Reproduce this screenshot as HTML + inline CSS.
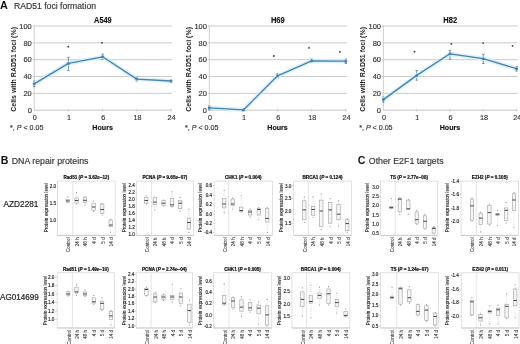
<!DOCTYPE html>
<html><head><meta charset="utf-8"><title>Figure</title>
<style>
html,body{margin:0;padding:0;background:#fff;}
body{width:520px;height:344px;overflow:hidden;}
svg{display:block;font-family:"Liberation Sans", Arial, sans-serif;}
</style></head><body>
<svg width="520" height="344" viewBox="0 0 520 344">
<rect width="520" height="344" fill="#fff"/>
<text x="0.10" y="9.40" font-size="10.8" font-weight="bold" text-anchor="start" fill="#111" >A</text>
<text x="14.00" y="9.35" font-size="8.65" font-weight="normal" text-anchor="start" fill="#333" stroke="#333" stroke-width="0.15">RAD51 foci formation</text>
<text x="0.80" y="163.90" font-size="10.6" font-weight="bold" text-anchor="start" fill="#111" >B</text>
<text x="11.70" y="163.90" font-size="8.8" font-weight="normal" text-anchor="start" fill="#333" stroke="#333" stroke-width="0.15">DNA repair proteins</text>
<text x="357.70" y="163.90" font-size="10.6" font-weight="bold" text-anchor="start" fill="#111" >C</text>
<text x="368.80" y="163.90" font-size="8.8" font-weight="normal" text-anchor="start" fill="#333" stroke="#333" stroke-width="0.15">Other E2F1 targets</text>
<text x="3.60" y="207.10" font-size="8.6" font-weight="normal" text-anchor="start" fill="#222" stroke="#222" stroke-width="0.2" textLength="34.8" lengthAdjust="spacingAndGlyphs">AZD2281</text>
<text x="0.10" y="300.40" font-size="8.6" font-weight="normal" text-anchor="start" fill="#222" stroke="#222" stroke-width="0.2" textLength="38.6" lengthAdjust="spacingAndGlyphs">AG014699</text>
<line x1="32.70" y1="93.36" x2="172.00" y2="93.36" stroke="#c4c4c4" stroke-width="0.9" />
<line x1="32.70" y1="76.52" x2="172.00" y2="76.52" stroke="#c4c4c4" stroke-width="0.9" />
<line x1="32.70" y1="59.68" x2="172.00" y2="59.68" stroke="#c4c4c4" stroke-width="0.9" />
<line x1="32.70" y1="42.84" x2="172.00" y2="42.84" stroke="#c4c4c4" stroke-width="0.9" />
<line x1="32.70" y1="26.00" x2="172.00" y2="26.00" stroke="#c4c4c4" stroke-width="0.9" />
<line x1="34.20" y1="25.50" x2="34.20" y2="110.70" stroke="#cfcfcf" stroke-width="1" />
<line x1="34.20" y1="110.20" x2="172.00" y2="110.20" stroke="#c4c4c4" stroke-width="1" />
<line x1="68.40" y1="108.60" x2="68.40" y2="111.60" stroke="#cccccc" stroke-width="0.8" />
<line x1="102.60" y1="108.60" x2="102.60" y2="111.60" stroke="#cccccc" stroke-width="0.8" />
<line x1="136.80" y1="108.60" x2="136.80" y2="111.60" stroke="#cccccc" stroke-width="0.8" />
<line x1="171.00" y1="108.60" x2="171.00" y2="111.60" stroke="#cccccc" stroke-width="0.8" />
<text x="31.80" y="112.90" font-size="7.5" font-weight="normal" text-anchor="end" fill="#333" stroke="#333" stroke-width="0.15">0</text>
<text x="31.80" y="96.06" font-size="7.5" font-weight="normal" text-anchor="end" fill="#333" stroke="#333" stroke-width="0.15">20</text>
<text x="31.80" y="79.22" font-size="7.5" font-weight="normal" text-anchor="end" fill="#333" stroke="#333" stroke-width="0.15">40</text>
<text x="31.80" y="62.38" font-size="7.5" font-weight="normal" text-anchor="end" fill="#333" stroke="#333" stroke-width="0.15">60</text>
<text x="31.80" y="45.54" font-size="7.5" font-weight="normal" text-anchor="end" fill="#333" stroke="#333" stroke-width="0.15">80</text>
<text x="31.80" y="28.70" font-size="7.5" font-weight="normal" text-anchor="end" fill="#333" stroke="#333" stroke-width="0.15">100</text>
<text x="34.80" y="120.00" font-size="7.2" font-weight="normal" text-anchor="middle" fill="#333" stroke="#333" stroke-width="0.15">0</text>
<text x="69.00" y="120.00" font-size="7.2" font-weight="normal" text-anchor="middle" fill="#333" stroke="#333" stroke-width="0.15">1</text>
<text x="103.20" y="120.00" font-size="7.2" font-weight="normal" text-anchor="middle" fill="#333" stroke="#333" stroke-width="0.15">6</text>
<text x="137.40" y="120.00" font-size="7.2" font-weight="normal" text-anchor="middle" fill="#333" stroke="#333" stroke-width="0.15">18</text>
<text x="171.60" y="120.00" font-size="7.2" font-weight="normal" text-anchor="middle" fill="#333" stroke="#333" stroke-width="0.15">24</text>
<text x="102.90" y="23.00" font-size="8.9" font-weight="bold" text-anchor="middle" fill="#111" stroke="#111" stroke-width="0.12" textLength="17.6" lengthAdjust="spacingAndGlyphs">A549</text>
<text x="102.60" y="130.00" font-size="7.1" font-weight="bold" text-anchor="middle" fill="#111" stroke="#111" stroke-width="0.15">Hours</text>
<text x="10.00" y="129.80" font-size="7.1" font-weight="normal" text-anchor="start" fill="#333" stroke="#333" stroke-width="0.15">*, <tspan font-style="italic">P</tspan> &lt; 0.05</text>
<text x="16.00" y="69.40" font-size="7" font-weight="bold" text-anchor="middle" fill="#222" transform="rotate(-90 16.00 69.40)">Cells with RAD51 foci (%)</text>
<line x1="34.20" y1="81.00" x2="34.20" y2="86.60" stroke="#4a7fae" stroke-width="0.8" />
<line x1="33.00" y1="81.00" x2="35.40" y2="81.00" stroke="#4a7fae" stroke-width="0.8" />
<line x1="33.00" y1="86.60" x2="35.40" y2="86.60" stroke="#4a7fae" stroke-width="0.8" />
<line x1="68.40" y1="57.30" x2="68.40" y2="70.40" stroke="#4a7fae" stroke-width="0.8" />
<line x1="67.20" y1="57.30" x2="69.60" y2="57.30" stroke="#4a7fae" stroke-width="0.8" />
<line x1="67.20" y1="70.40" x2="69.60" y2="70.40" stroke="#4a7fae" stroke-width="0.8" />
<line x1="102.60" y1="54.00" x2="102.60" y2="59.50" stroke="#4a7fae" stroke-width="0.8" />
<line x1="101.40" y1="54.00" x2="103.80" y2="54.00" stroke="#4a7fae" stroke-width="0.8" />
<line x1="101.40" y1="59.50" x2="103.80" y2="59.50" stroke="#4a7fae" stroke-width="0.8" />
<line x1="136.80" y1="76.80" x2="136.80" y2="81.00" stroke="#4a7fae" stroke-width="0.8" />
<line x1="135.60" y1="76.80" x2="138.00" y2="76.80" stroke="#4a7fae" stroke-width="0.8" />
<line x1="135.60" y1="81.00" x2="138.00" y2="81.00" stroke="#4a7fae" stroke-width="0.8" />
<line x1="171.00" y1="80.00" x2="171.00" y2="82.00" stroke="#4a7fae" stroke-width="0.8" />
<line x1="169.80" y1="80.00" x2="172.20" y2="80.00" stroke="#4a7fae" stroke-width="0.8" />
<line x1="169.80" y1="82.00" x2="172.20" y2="82.00" stroke="#4a7fae" stroke-width="0.8" />
<polyline points="34.20,83.80 68.40,63.40 102.60,56.80 136.80,79.10 171.00,81.00" fill="none" stroke="#d6eff9" stroke-width="4.2" stroke-linejoin="round" opacity="0.8"/>
<polyline points="34.20,83.80 68.40,63.40 102.60,56.80 136.80,79.10 171.00,81.00" fill="none" stroke="#4483b5" stroke-width="1.35" stroke-linejoin="round"/>
<circle cx="34.20" cy="83.80" r="1.5" fill="#4483b5"/>
<circle cx="68.40" cy="63.40" r="1.5" fill="#4483b5"/>
<circle cx="102.60" cy="56.80" r="1.5" fill="#4483b5"/>
<circle cx="136.80" cy="79.10" r="1.5" fill="#4483b5"/>
<circle cx="171.00" cy="81.00" r="1.5" fill="#4483b5"/>
<circle cx="68.20" cy="46.70" r="0.9" fill="#333"/>
<circle cx="102.00" cy="42.80" r="0.9" fill="#333"/>
<line x1="207.80" y1="93.36" x2="346.80" y2="93.36" stroke="#c4c4c4" stroke-width="0.9" />
<line x1="207.80" y1="76.52" x2="346.80" y2="76.52" stroke="#c4c4c4" stroke-width="0.9" />
<line x1="207.80" y1="59.68" x2="346.80" y2="59.68" stroke="#c4c4c4" stroke-width="0.9" />
<line x1="207.80" y1="42.84" x2="346.80" y2="42.84" stroke="#c4c4c4" stroke-width="0.9" />
<line x1="207.80" y1="26.00" x2="346.80" y2="26.00" stroke="#c4c4c4" stroke-width="0.9" />
<line x1="209.30" y1="25.50" x2="209.30" y2="110.70" stroke="#cfcfcf" stroke-width="1" />
<line x1="209.30" y1="110.20" x2="346.80" y2="110.20" stroke="#c4c4c4" stroke-width="1" />
<line x1="243.43" y1="108.60" x2="243.43" y2="111.60" stroke="#cccccc" stroke-width="0.8" />
<line x1="277.55" y1="108.60" x2="277.55" y2="111.60" stroke="#cccccc" stroke-width="0.8" />
<line x1="311.68" y1="108.60" x2="311.68" y2="111.60" stroke="#cccccc" stroke-width="0.8" />
<line x1="345.80" y1="108.60" x2="345.80" y2="111.60" stroke="#cccccc" stroke-width="0.8" />
<text x="206.90" y="112.90" font-size="7.5" font-weight="normal" text-anchor="end" fill="#333" stroke="#333" stroke-width="0.15">0</text>
<text x="206.90" y="96.06" font-size="7.5" font-weight="normal" text-anchor="end" fill="#333" stroke="#333" stroke-width="0.15">20</text>
<text x="206.90" y="79.22" font-size="7.5" font-weight="normal" text-anchor="end" fill="#333" stroke="#333" stroke-width="0.15">40</text>
<text x="206.90" y="62.38" font-size="7.5" font-weight="normal" text-anchor="end" fill="#333" stroke="#333" stroke-width="0.15">60</text>
<text x="206.90" y="45.54" font-size="7.5" font-weight="normal" text-anchor="end" fill="#333" stroke="#333" stroke-width="0.15">80</text>
<text x="206.90" y="28.70" font-size="7.5" font-weight="normal" text-anchor="end" fill="#333" stroke="#333" stroke-width="0.15">100</text>
<text x="209.90" y="120.00" font-size="7.2" font-weight="normal" text-anchor="middle" fill="#333" stroke="#333" stroke-width="0.15">0</text>
<text x="244.03" y="120.00" font-size="7.2" font-weight="normal" text-anchor="middle" fill="#333" stroke="#333" stroke-width="0.15">1</text>
<text x="278.15" y="120.00" font-size="7.2" font-weight="normal" text-anchor="middle" fill="#333" stroke="#333" stroke-width="0.15">6</text>
<text x="312.28" y="120.00" font-size="7.2" font-weight="normal" text-anchor="middle" fill="#333" stroke="#333" stroke-width="0.15">18</text>
<text x="346.40" y="120.00" font-size="7.2" font-weight="normal" text-anchor="middle" fill="#333" stroke="#333" stroke-width="0.15">24</text>
<text x="277.85" y="23.00" font-size="8.9" font-weight="bold" text-anchor="middle" fill="#111" stroke="#111" stroke-width="0.12" textLength="13.9" lengthAdjust="spacingAndGlyphs">H69</text>
<text x="277.55" y="130.00" font-size="7.1" font-weight="bold" text-anchor="middle" fill="#111" stroke="#111" stroke-width="0.15">Hours</text>
<text x="185.10" y="129.80" font-size="7.1" font-weight="normal" text-anchor="start" fill="#333" stroke="#333" stroke-width="0.15">*, <tspan font-style="italic">P</tspan> &lt; 0.05</text>
<text x="191.10" y="69.40" font-size="7" font-weight="bold" text-anchor="middle" fill="#222" transform="rotate(-90 191.10 69.40)">Cells with RAD51 foci (%)</text>
<line x1="209.30" y1="106.00" x2="209.30" y2="110.00" stroke="#4a7fae" stroke-width="0.8" />
<line x1="208.10" y1="106.00" x2="210.50" y2="106.00" stroke="#4a7fae" stroke-width="0.8" />
<line x1="208.10" y1="110.00" x2="210.50" y2="110.00" stroke="#4a7fae" stroke-width="0.8" />
<line x1="243.43" y1="109.00" x2="243.43" y2="110.50" stroke="#4a7fae" stroke-width="0.8" />
<line x1="242.23" y1="109.00" x2="244.62" y2="109.00" stroke="#4a7fae" stroke-width="0.8" />
<line x1="242.23" y1="110.50" x2="244.62" y2="110.50" stroke="#4a7fae" stroke-width="0.8" />
<line x1="277.55" y1="73.50" x2="277.55" y2="78.00" stroke="#4a7fae" stroke-width="0.8" />
<line x1="276.35" y1="73.50" x2="278.75" y2="73.50" stroke="#4a7fae" stroke-width="0.8" />
<line x1="276.35" y1="78.00" x2="278.75" y2="78.00" stroke="#4a7fae" stroke-width="0.8" />
<line x1="311.68" y1="59.00" x2="311.68" y2="62.50" stroke="#4a7fae" stroke-width="0.8" />
<line x1="310.48" y1="59.00" x2="312.88" y2="59.00" stroke="#4a7fae" stroke-width="0.8" />
<line x1="310.48" y1="62.50" x2="312.88" y2="62.50" stroke="#4a7fae" stroke-width="0.8" />
<line x1="345.80" y1="59.00" x2="345.80" y2="63.50" stroke="#4a7fae" stroke-width="0.8" />
<line x1="344.60" y1="59.00" x2="347.00" y2="59.00" stroke="#4a7fae" stroke-width="0.8" />
<line x1="344.60" y1="63.50" x2="347.00" y2="63.50" stroke="#4a7fae" stroke-width="0.8" />
<polyline points="209.30,107.90 243.43,109.90 277.55,75.80 311.68,60.80 345.80,61.20" fill="none" stroke="#d6eff9" stroke-width="4.2" stroke-linejoin="round" opacity="0.8"/>
<polyline points="209.30,107.90 243.43,109.90 277.55,75.80 311.68,60.80 345.80,61.20" fill="none" stroke="#4483b5" stroke-width="1.35" stroke-linejoin="round"/>
<circle cx="209.30" cy="107.90" r="1.5" fill="#4483b5"/>
<circle cx="243.43" cy="109.90" r="1.5" fill="#4483b5"/>
<circle cx="277.55" cy="75.80" r="1.5" fill="#4483b5"/>
<circle cx="311.68" cy="60.80" r="1.5" fill="#4483b5"/>
<circle cx="345.80" cy="61.20" r="1.5" fill="#4483b5"/>
<circle cx="273.80" cy="56.00" r="0.9" fill="#333"/>
<circle cx="309.00" cy="47.80" r="0.9" fill="#333"/>
<circle cx="339.90" cy="51.80" r="0.9" fill="#333"/>
<line x1="381.90" y1="93.36" x2="517.60" y2="93.36" stroke="#c4c4c4" stroke-width="0.9" />
<line x1="381.90" y1="76.52" x2="517.60" y2="76.52" stroke="#c4c4c4" stroke-width="0.9" />
<line x1="381.90" y1="59.68" x2="517.60" y2="59.68" stroke="#c4c4c4" stroke-width="0.9" />
<line x1="381.90" y1="42.84" x2="517.60" y2="42.84" stroke="#c4c4c4" stroke-width="0.9" />
<line x1="381.90" y1="26.00" x2="517.60" y2="26.00" stroke="#c4c4c4" stroke-width="0.9" />
<line x1="383.40" y1="25.50" x2="383.40" y2="110.70" stroke="#cfcfcf" stroke-width="1" />
<line x1="383.40" y1="110.20" x2="517.60" y2="110.20" stroke="#c4c4c4" stroke-width="1" />
<line x1="416.70" y1="108.60" x2="416.70" y2="111.60" stroke="#cccccc" stroke-width="0.8" />
<line x1="450.00" y1="108.60" x2="450.00" y2="111.60" stroke="#cccccc" stroke-width="0.8" />
<line x1="483.30" y1="108.60" x2="483.30" y2="111.60" stroke="#cccccc" stroke-width="0.8" />
<line x1="516.60" y1="108.60" x2="516.60" y2="111.60" stroke="#cccccc" stroke-width="0.8" />
<text x="381.00" y="112.90" font-size="7.5" font-weight="normal" text-anchor="end" fill="#333" stroke="#333" stroke-width="0.15">0</text>
<text x="381.00" y="96.06" font-size="7.5" font-weight="normal" text-anchor="end" fill="#333" stroke="#333" stroke-width="0.15">20</text>
<text x="381.00" y="79.22" font-size="7.5" font-weight="normal" text-anchor="end" fill="#333" stroke="#333" stroke-width="0.15">40</text>
<text x="381.00" y="62.38" font-size="7.5" font-weight="normal" text-anchor="end" fill="#333" stroke="#333" stroke-width="0.15">60</text>
<text x="381.00" y="45.54" font-size="7.5" font-weight="normal" text-anchor="end" fill="#333" stroke="#333" stroke-width="0.15">80</text>
<text x="381.00" y="28.70" font-size="7.5" font-weight="normal" text-anchor="end" fill="#333" stroke="#333" stroke-width="0.15">100</text>
<text x="384.00" y="120.00" font-size="7.2" font-weight="normal" text-anchor="middle" fill="#333" stroke="#333" stroke-width="0.15">0</text>
<text x="417.30" y="120.00" font-size="7.2" font-weight="normal" text-anchor="middle" fill="#333" stroke="#333" stroke-width="0.15">1</text>
<text x="450.60" y="120.00" font-size="7.2" font-weight="normal" text-anchor="middle" fill="#333" stroke="#333" stroke-width="0.15">6</text>
<text x="483.90" y="120.00" font-size="7.2" font-weight="normal" text-anchor="middle" fill="#333" stroke="#333" stroke-width="0.15">18</text>
<text x="517.20" y="120.00" font-size="7.2" font-weight="normal" text-anchor="middle" fill="#333" stroke="#333" stroke-width="0.15">24</text>
<text x="450.30" y="23.00" font-size="8.9" font-weight="bold" text-anchor="middle" fill="#111" stroke="#111" stroke-width="0.12" textLength="13.9" lengthAdjust="spacingAndGlyphs">H82</text>
<text x="450.00" y="130.00" font-size="7.1" font-weight="bold" text-anchor="middle" fill="#111" stroke="#111" stroke-width="0.15">Hours</text>
<text x="359.20" y="129.80" font-size="7.1" font-weight="normal" text-anchor="start" fill="#333" stroke="#333" stroke-width="0.15">*, <tspan font-style="italic">P</tspan> &lt; 0.05</text>
<text x="365.20" y="69.40" font-size="7" font-weight="bold" text-anchor="middle" fill="#222" transform="rotate(-90 365.20 69.40)">Cells with RAD51 foci (%)</text>
<line x1="383.40" y1="97.00" x2="383.40" y2="102.30" stroke="#4a7fae" stroke-width="0.8" />
<line x1="382.20" y1="97.00" x2="384.60" y2="97.00" stroke="#4a7fae" stroke-width="0.8" />
<line x1="382.20" y1="102.30" x2="384.60" y2="102.30" stroke="#4a7fae" stroke-width="0.8" />
<line x1="416.70" y1="70.50" x2="416.70" y2="80.20" stroke="#4a7fae" stroke-width="0.8" />
<line x1="415.50" y1="70.50" x2="417.90" y2="70.50" stroke="#4a7fae" stroke-width="0.8" />
<line x1="415.50" y1="80.20" x2="417.90" y2="80.20" stroke="#4a7fae" stroke-width="0.8" />
<line x1="450.00" y1="50.30" x2="450.00" y2="59.20" stroke="#4a7fae" stroke-width="0.8" />
<line x1="448.80" y1="50.30" x2="451.20" y2="50.30" stroke="#4a7fae" stroke-width="0.8" />
<line x1="448.80" y1="59.20" x2="451.20" y2="59.20" stroke="#4a7fae" stroke-width="0.8" />
<line x1="483.30" y1="54.40" x2="483.30" y2="63.50" stroke="#4a7fae" stroke-width="0.8" />
<line x1="482.10" y1="54.40" x2="484.50" y2="54.40" stroke="#4a7fae" stroke-width="0.8" />
<line x1="482.10" y1="63.50" x2="484.50" y2="63.50" stroke="#4a7fae" stroke-width="0.8" />
<line x1="516.60" y1="66.50" x2="516.60" y2="71.10" stroke="#4a7fae" stroke-width="0.8" />
<line x1="515.40" y1="66.50" x2="517.80" y2="66.50" stroke="#4a7fae" stroke-width="0.8" />
<line x1="515.40" y1="71.10" x2="517.80" y2="71.10" stroke="#4a7fae" stroke-width="0.8" />
<polyline points="383.40,99.60 416.70,75.40 450.00,53.80 483.30,58.70 516.60,68.70" fill="none" stroke="#d6eff9" stroke-width="4.2" stroke-linejoin="round" opacity="0.8"/>
<polyline points="383.40,99.60 416.70,75.40 450.00,53.80 483.30,58.70 516.60,68.70" fill="none" stroke="#4483b5" stroke-width="1.35" stroke-linejoin="round"/>
<circle cx="383.40" cy="99.60" r="1.5" fill="#4483b5"/>
<circle cx="416.70" cy="75.40" r="1.5" fill="#4483b5"/>
<circle cx="450.00" cy="53.80" r="1.5" fill="#4483b5"/>
<circle cx="483.30" cy="58.70" r="1.5" fill="#4483b5"/>
<circle cx="516.60" cy="68.70" r="1.5" fill="#4483b5"/>
<circle cx="414.50" cy="51.70" r="0.9" fill="#333"/>
<circle cx="451.40" cy="43.90" r="0.9" fill="#333"/>
<circle cx="483.10" cy="43.10" r="0.9" fill="#333"/>
<circle cx="512.50" cy="45.80" r="0.9" fill="#333"/>
<rect x="57.50" y="181.10" width="57.70" height="54.10" fill="none" stroke="#dadada" stroke-width="0.8"/>
<line x1="57.50" y1="235.50" x2="115.20" y2="235.50" stroke="#c8c8c8" stroke-width="0.9" />
<line x1="72.80" y1="181.10" x2="72.80" y2="235.20" stroke="#d8d8d8" stroke-width="0.7" />
<text x="86.35" y="179.20" font-size="4.6" font-weight="bold" text-anchor="middle" fill="#111" stroke="#111" stroke-width="0.2">Rad51 (<tspan font-style="italic">P</tspan> = 3.62e&#8722;12)</text>
<text x="56.10" y="188.45" font-size="4.6" font-weight="normal" text-anchor="end" fill="#222" stroke="#222" stroke-width="0.15">2.0</text>
<line x1="56.70" y1="186.80" x2="57.50" y2="186.80" stroke="#aaa" stroke-width="0.5" />
<text x="56.10" y="205.05" font-size="4.6" font-weight="normal" text-anchor="end" fill="#222" stroke="#222" stroke-width="0.15">1.5</text>
<line x1="56.70" y1="203.40" x2="57.50" y2="203.40" stroke="#aaa" stroke-width="0.5" />
<text x="56.10" y="221.55" font-size="4.6" font-weight="normal" text-anchor="end" fill="#222" stroke="#222" stroke-width="0.15">1.0</text>
<line x1="56.70" y1="219.90" x2="57.50" y2="219.90" stroke="#aaa" stroke-width="0.5" />
<text x="47.70" y="207.70" font-size="4.65" font-weight="normal" text-anchor="middle" fill="#222" stroke="#222" stroke-width="0.12" transform="rotate(-90 47.70 207.70)">Protein expression level</text>
<text x="70.10" y="237.30" font-size="4.6" font-weight="normal" text-anchor="end" fill="#3a3a3a" stroke="#3a3a3a" stroke-width="0.08" transform="rotate(-90 70.10 237.30)">Control</text>
<text x="79.00" y="237.30" font-size="4.6" font-weight="normal" text-anchor="end" fill="#3a3a3a" stroke="#3a3a3a" stroke-width="0.08" transform="rotate(-90 79.00 237.30)">24 h</text>
<text x="87.30" y="237.30" font-size="4.6" font-weight="normal" text-anchor="end" fill="#3a3a3a" stroke="#3a3a3a" stroke-width="0.08" transform="rotate(-90 87.30 237.30)">48 h</text>
<text x="96.00" y="237.30" font-size="4.6" font-weight="normal" text-anchor="end" fill="#3a3a3a" stroke="#3a3a3a" stroke-width="0.08" transform="rotate(-90 96.00 237.30)">4 d</text>
<text x="104.60" y="237.30" font-size="4.6" font-weight="normal" text-anchor="end" fill="#3a3a3a" stroke="#3a3a3a" stroke-width="0.08" transform="rotate(-90 104.60 237.30)">5 d</text>
<text x="113.10" y="237.30" font-size="4.6" font-weight="normal" text-anchor="end" fill="#3a3a3a" stroke="#3a3a3a" stroke-width="0.08" transform="rotate(-90 113.10 237.30)">14 d</text>
<line x1="67.70" y1="197.00" x2="67.70" y2="199.50" stroke="#bbb" stroke-width="0.5" stroke-dasharray="1 1"/>
<line x1="67.70" y1="202.00" x2="67.70" y2="202.50" stroke="#bbb" stroke-width="0.5" stroke-dasharray="1 1"/>
<circle cx="67.70" cy="197.00" r="0.55" fill="#888"/>
<circle cx="67.70" cy="202.50" r="0.55" fill="#888"/>
<rect x="66.00" y="199.50" width="3.4" height="2.50" fill="#f5f5f5" stroke="#a0a0a0" stroke-width="0.6"/>
<line x1="66.00" y1="200.90" x2="69.40" y2="200.90" stroke="#444" stroke-width="1.0" />
<line x1="76.60" y1="192.40" x2="76.60" y2="198.00" stroke="#bbb" stroke-width="0.5" stroke-dasharray="1 1"/>
<line x1="76.60" y1="203.00" x2="76.60" y2="204.00" stroke="#bbb" stroke-width="0.5" stroke-dasharray="1 1"/>
<circle cx="76.60" cy="192.40" r="0.55" fill="#888"/>
<circle cx="76.60" cy="204.00" r="0.55" fill="#888"/>
<rect x="74.90" y="198.00" width="3.4" height="5.00" fill="#f5f5f5" stroke="#a0a0a0" stroke-width="0.6"/>
<line x1="74.90" y1="200.50" x2="78.30" y2="200.50" stroke="#444" stroke-width="1.0" />
<line x1="84.90" y1="196.20" x2="84.90" y2="197.70" stroke="#bbb" stroke-width="0.5" stroke-dasharray="1 1"/>
<line x1="84.90" y1="202.40" x2="84.90" y2="205.00" stroke="#bbb" stroke-width="0.5" stroke-dasharray="1 1"/>
<circle cx="84.90" cy="196.20" r="0.55" fill="#888"/>
<circle cx="84.90" cy="205.00" r="0.55" fill="#888"/>
<rect x="83.20" y="197.70" width="3.4" height="4.70" fill="#f5f5f5" stroke="#a0a0a0" stroke-width="0.6"/>
<line x1="83.20" y1="200.30" x2="86.60" y2="200.30" stroke="#444" stroke-width="1.0" />
<line x1="93.60" y1="201.00" x2="93.60" y2="203.20" stroke="#bbb" stroke-width="0.5" stroke-dasharray="1 1"/>
<line x1="93.60" y1="210.30" x2="93.60" y2="211.50" stroke="#bbb" stroke-width="0.5" stroke-dasharray="1 1"/>
<circle cx="93.60" cy="201.00" r="0.55" fill="#888"/>
<circle cx="93.60" cy="211.50" r="0.55" fill="#888"/>
<rect x="91.90" y="203.20" width="3.4" height="7.10" fill="#f5f5f5" stroke="#a0a0a0" stroke-width="0.6"/>
<line x1="91.90" y1="207.00" x2="95.30" y2="207.00" stroke="#444" stroke-width="1.0" />
<line x1="102.20" y1="203.50" x2="102.20" y2="204.00" stroke="#bbb" stroke-width="0.5" stroke-dasharray="1 1"/>
<line x1="102.20" y1="213.40" x2="102.20" y2="215.30" stroke="#bbb" stroke-width="0.5" stroke-dasharray="1 1"/>
<circle cx="102.20" cy="203.50" r="0.55" fill="#888"/>
<circle cx="102.20" cy="215.30" r="0.55" fill="#888"/>
<rect x="100.50" y="204.00" width="3.4" height="9.40" fill="#f5f5f5" stroke="#a0a0a0" stroke-width="0.6"/>
<line x1="100.50" y1="209.50" x2="103.90" y2="209.50" stroke="#444" stroke-width="1.0" />
<line x1="110.70" y1="219.30" x2="110.70" y2="220.00" stroke="#bbb" stroke-width="0.5" stroke-dasharray="1 1"/>
<line x1="110.70" y1="226.70" x2="110.70" y2="232.30" stroke="#bbb" stroke-width="0.5" stroke-dasharray="1 1"/>
<circle cx="110.70" cy="219.30" r="0.55" fill="#888"/>
<circle cx="110.70" cy="232.30" r="0.55" fill="#888"/>
<rect x="109.00" y="220.00" width="3.4" height="6.70" fill="#f5f5f5" stroke="#a0a0a0" stroke-width="0.6"/>
<line x1="109.00" y1="225.00" x2="112.40" y2="225.00" stroke="#444" stroke-width="1.0" />
<rect x="136.40" y="181.10" width="57.10" height="54.10" fill="none" stroke="#dadada" stroke-width="0.8"/>
<line x1="136.40" y1="235.50" x2="193.50" y2="235.50" stroke="#c8c8c8" stroke-width="0.9" />
<line x1="151.60" y1="181.10" x2="151.60" y2="235.20" stroke="#d8d8d8" stroke-width="0.7" />
<text x="164.95" y="179.20" font-size="4.6" font-weight="bold" text-anchor="middle" fill="#111" stroke="#111" stroke-width="0.2">PCNA (<tspan font-style="italic">P</tspan> = 9.65e&#8722;07)</text>
<text x="134.90" y="186.95" font-size="4.6" font-weight="normal" text-anchor="end" fill="#222" stroke="#222" stroke-width="0.15">2.4</text>
<line x1="135.50" y1="185.30" x2="136.40" y2="185.30" stroke="#aaa" stroke-width="0.5" />
<text x="134.90" y="193.95" font-size="4.6" font-weight="normal" text-anchor="end" fill="#222" stroke="#222" stroke-width="0.15">2.2</text>
<line x1="135.50" y1="192.30" x2="136.40" y2="192.30" stroke="#aaa" stroke-width="0.5" />
<text x="134.90" y="200.95" font-size="4.6" font-weight="normal" text-anchor="end" fill="#222" stroke="#222" stroke-width="0.15">2.0</text>
<line x1="135.50" y1="199.30" x2="136.40" y2="199.30" stroke="#aaa" stroke-width="0.5" />
<text x="134.90" y="207.95" font-size="4.6" font-weight="normal" text-anchor="end" fill="#222" stroke="#222" stroke-width="0.15">1.8</text>
<line x1="135.50" y1="206.30" x2="136.40" y2="206.30" stroke="#aaa" stroke-width="0.5" />
<text x="134.90" y="214.95" font-size="4.6" font-weight="normal" text-anchor="end" fill="#222" stroke="#222" stroke-width="0.15">1.6</text>
<line x1="135.50" y1="213.30" x2="136.40" y2="213.30" stroke="#aaa" stroke-width="0.5" />
<text x="134.90" y="221.85" font-size="4.6" font-weight="normal" text-anchor="end" fill="#222" stroke="#222" stroke-width="0.15">1.4</text>
<line x1="135.50" y1="220.20" x2="136.40" y2="220.20" stroke="#aaa" stroke-width="0.5" />
<text x="134.90" y="228.85" font-size="4.6" font-weight="normal" text-anchor="end" fill="#222" stroke="#222" stroke-width="0.15">1.2</text>
<line x1="135.50" y1="227.20" x2="136.40" y2="227.20" stroke="#aaa" stroke-width="0.5" />
<text x="134.90" y="235.85" font-size="4.6" font-weight="normal" text-anchor="end" fill="#222" stroke="#222" stroke-width="0.15">1.0</text>
<line x1="135.50" y1="234.20" x2="136.40" y2="234.20" stroke="#aaa" stroke-width="0.5" />
<text x="126.00" y="207.70" font-size="4.65" font-weight="normal" text-anchor="middle" fill="#222" stroke="#222" stroke-width="0.12" transform="rotate(-90 126.00 207.70)">Protein expression level</text>
<text x="148.70" y="237.30" font-size="4.6" font-weight="normal" text-anchor="end" fill="#3a3a3a" stroke="#3a3a3a" stroke-width="0.08" transform="rotate(-90 148.70 237.30)">Control</text>
<text x="157.20" y="237.30" font-size="4.6" font-weight="normal" text-anchor="end" fill="#3a3a3a" stroke="#3a3a3a" stroke-width="0.08" transform="rotate(-90 157.20 237.30)">24 h</text>
<text x="165.90" y="237.30" font-size="4.6" font-weight="normal" text-anchor="end" fill="#3a3a3a" stroke="#3a3a3a" stroke-width="0.08" transform="rotate(-90 165.90 237.30)">48 h</text>
<text x="174.40" y="237.30" font-size="4.6" font-weight="normal" text-anchor="end" fill="#3a3a3a" stroke="#3a3a3a" stroke-width="0.08" transform="rotate(-90 174.40 237.30)">4 d</text>
<text x="182.60" y="237.30" font-size="4.6" font-weight="normal" text-anchor="end" fill="#3a3a3a" stroke="#3a3a3a" stroke-width="0.08" transform="rotate(-90 182.60 237.30)">5 d</text>
<text x="191.30" y="237.30" font-size="4.6" font-weight="normal" text-anchor="end" fill="#3a3a3a" stroke="#3a3a3a" stroke-width="0.08" transform="rotate(-90 191.30 237.30)">14 d</text>
<line x1="146.30" y1="195.80" x2="146.30" y2="197.70" stroke="#bbb" stroke-width="0.5" stroke-dasharray="1 1"/>
<line x1="146.30" y1="203.20" x2="146.30" y2="204.00" stroke="#bbb" stroke-width="0.5" stroke-dasharray="1 1"/>
<circle cx="146.30" cy="195.80" r="0.55" fill="#888"/>
<circle cx="146.30" cy="204.00" r="0.55" fill="#888"/>
<rect x="144.60" y="197.70" width="3.4" height="5.50" fill="#f5f5f5" stroke="#a0a0a0" stroke-width="0.6"/>
<line x1="144.60" y1="200.50" x2="148.00" y2="200.50" stroke="#444" stroke-width="1.0" />
<line x1="154.80" y1="197.00" x2="154.80" y2="197.70" stroke="#bbb" stroke-width="0.5" stroke-dasharray="1 1"/>
<line x1="154.80" y1="204.80" x2="154.80" y2="210.00" stroke="#bbb" stroke-width="0.5" stroke-dasharray="1 1"/>
<circle cx="154.80" cy="197.00" r="0.55" fill="#888"/>
<circle cx="154.80" cy="210.00" r="0.55" fill="#888"/>
<rect x="153.10" y="197.70" width="3.4" height="7.10" fill="#f5f5f5" stroke="#a0a0a0" stroke-width="0.6"/>
<line x1="153.10" y1="202.10" x2="156.50" y2="202.10" stroke="#444" stroke-width="1.0" />
<line x1="163.50" y1="200.00" x2="163.50" y2="200.50" stroke="#bbb" stroke-width="0.5" stroke-dasharray="1 1"/>
<line x1="163.50" y1="205.50" x2="163.50" y2="206.00" stroke="#bbb" stroke-width="0.5" stroke-dasharray="1 1"/>
<circle cx="163.50" cy="200.00" r="0.55" fill="#888"/>
<circle cx="163.50" cy="206.00" r="0.55" fill="#888"/>
<rect x="161.80" y="200.50" width="3.4" height="5.00" fill="#f5f5f5" stroke="#a0a0a0" stroke-width="0.6"/>
<line x1="161.80" y1="203.20" x2="165.20" y2="203.20" stroke="#444" stroke-width="1.0" />
<line x1="172.00" y1="191.70" x2="172.00" y2="198.50" stroke="#bbb" stroke-width="0.5" stroke-dasharray="1 1"/>
<line x1="172.00" y1="206.30" x2="172.00" y2="207.00" stroke="#bbb" stroke-width="0.5" stroke-dasharray="1 1"/>
<circle cx="172.00" cy="191.70" r="0.55" fill="#888"/>
<circle cx="172.00" cy="207.00" r="0.55" fill="#888"/>
<rect x="170.30" y="198.50" width="3.4" height="7.80" fill="#f5f5f5" stroke="#a0a0a0" stroke-width="0.6"/>
<line x1="170.30" y1="204.80" x2="173.70" y2="204.80" stroke="#444" stroke-width="1.0" />
<line x1="180.20" y1="197.20" x2="180.20" y2="200.50" stroke="#bbb" stroke-width="0.5" stroke-dasharray="1 1"/>
<line x1="180.20" y1="208.70" x2="180.20" y2="211.00" stroke="#bbb" stroke-width="0.5" stroke-dasharray="1 1"/>
<circle cx="180.20" cy="197.20" r="0.55" fill="#888"/>
<circle cx="180.20" cy="211.00" r="0.55" fill="#888"/>
<rect x="178.50" y="200.50" width="3.4" height="8.20" fill="#f5f5f5" stroke="#a0a0a0" stroke-width="0.6"/>
<line x1="178.50" y1="203.20" x2="181.90" y2="203.20" stroke="#444" stroke-width="1.0" />
<line x1="188.90" y1="209.00" x2="188.90" y2="218.10" stroke="#bbb" stroke-width="0.5" stroke-dasharray="1 1"/>
<line x1="188.90" y1="229.10" x2="188.90" y2="232.50" stroke="#bbb" stroke-width="0.5" stroke-dasharray="1 1"/>
<circle cx="188.90" cy="209.00" r="0.55" fill="#888"/>
<circle cx="188.90" cy="232.50" r="0.55" fill="#888"/>
<rect x="187.20" y="218.10" width="3.4" height="11.00" fill="#f5f5f5" stroke="#a0a0a0" stroke-width="0.6"/>
<line x1="187.20" y1="222.50" x2="190.60" y2="222.50" stroke="#444" stroke-width="1.0" />
<rect x="214.20" y="181.10" width="58.20" height="54.10" fill="none" stroke="#dadada" stroke-width="0.8"/>
<line x1="214.20" y1="235.50" x2="272.40" y2="235.50" stroke="#c8c8c8" stroke-width="0.9" />
<line x1="228.60" y1="181.10" x2="228.60" y2="235.20" stroke="#d8d8d8" stroke-width="0.7" />
<text x="243.30" y="179.20" font-size="4.6" font-weight="bold" text-anchor="middle" fill="#111" stroke="#111" stroke-width="0.2">CHK1 (<tspan font-style="italic">P</tspan> = 0.004)</text>
<text x="212.10" y="187.15" font-size="4.6" font-weight="normal" text-anchor="end" fill="#222" stroke="#222" stroke-width="0.15">0.6</text>
<line x1="212.70" y1="185.50" x2="214.20" y2="185.50" stroke="#aaa" stroke-width="0.5" />
<text x="212.10" y="196.75" font-size="4.6" font-weight="normal" text-anchor="end" fill="#222" stroke="#222" stroke-width="0.15">0.4</text>
<line x1="212.70" y1="195.10" x2="214.20" y2="195.10" stroke="#aaa" stroke-width="0.5" />
<text x="212.10" y="206.25" font-size="4.6" font-weight="normal" text-anchor="end" fill="#222" stroke="#222" stroke-width="0.15">0.2</text>
<line x1="212.70" y1="204.60" x2="214.20" y2="204.60" stroke="#aaa" stroke-width="0.5" />
<text x="212.10" y="215.75" font-size="4.6" font-weight="normal" text-anchor="end" fill="#222" stroke="#222" stroke-width="0.15">0.0</text>
<line x1="212.70" y1="214.10" x2="214.20" y2="214.10" stroke="#aaa" stroke-width="0.5" />
<text x="212.10" y="225.05" font-size="4.6" font-weight="normal" text-anchor="end" fill="#222" stroke="#222" stroke-width="0.15">-0.2</text>
<line x1="212.70" y1="223.40" x2="214.20" y2="223.40" stroke="#aaa" stroke-width="0.5" />
<text x="212.10" y="234.25" font-size="4.6" font-weight="normal" text-anchor="end" fill="#222" stroke="#222" stroke-width="0.15">-0.4</text>
<line x1="212.70" y1="232.60" x2="214.20" y2="232.60" stroke="#aaa" stroke-width="0.5" />
<text x="202.20" y="207.70" font-size="4.65" font-weight="normal" text-anchor="middle" fill="#222" stroke="#222" stroke-width="0.12" transform="rotate(-90 202.20 207.70)">Protein expression level</text>
<text x="226.60" y="237.30" font-size="4.6" font-weight="normal" text-anchor="end" fill="#3a3a3a" stroke="#3a3a3a" stroke-width="0.08" transform="rotate(-90 226.60 237.30)">Control</text>
<text x="235.10" y="237.30" font-size="4.6" font-weight="normal" text-anchor="end" fill="#3a3a3a" stroke="#3a3a3a" stroke-width="0.08" transform="rotate(-90 235.10 237.30)">24 h</text>
<text x="243.60" y="237.30" font-size="4.6" font-weight="normal" text-anchor="end" fill="#3a3a3a" stroke="#3a3a3a" stroke-width="0.08" transform="rotate(-90 243.60 237.30)">48 h</text>
<text x="252.40" y="237.30" font-size="4.6" font-weight="normal" text-anchor="end" fill="#3a3a3a" stroke="#3a3a3a" stroke-width="0.08" transform="rotate(-90 252.40 237.30)">4 d</text>
<text x="261.20" y="237.30" font-size="4.6" font-weight="normal" text-anchor="end" fill="#3a3a3a" stroke="#3a3a3a" stroke-width="0.08" transform="rotate(-90 261.20 237.30)">5 d</text>
<text x="269.60" y="237.30" font-size="4.6" font-weight="normal" text-anchor="end" fill="#3a3a3a" stroke="#3a3a3a" stroke-width="0.08" transform="rotate(-90 269.60 237.30)">14 d</text>
<line x1="224.20" y1="190.20" x2="224.20" y2="198.50" stroke="#bbb" stroke-width="0.5" stroke-dasharray="1 1"/>
<line x1="224.20" y1="207.90" x2="224.20" y2="212.60" stroke="#bbb" stroke-width="0.5" stroke-dasharray="1 1"/>
<circle cx="224.20" cy="190.20" r="0.55" fill="#888"/>
<circle cx="224.20" cy="212.60" r="0.55" fill="#888"/>
<rect x="222.50" y="198.50" width="3.4" height="9.40" fill="#f5f5f5" stroke="#a0a0a0" stroke-width="0.6"/>
<line x1="222.50" y1="204.00" x2="225.90" y2="204.00" stroke="#444" stroke-width="1.0" />
<line x1="232.70" y1="198.00" x2="232.70" y2="199.00" stroke="#bbb" stroke-width="0.5" stroke-dasharray="1 1"/>
<line x1="232.70" y1="205.50" x2="232.70" y2="209.00" stroke="#bbb" stroke-width="0.5" stroke-dasharray="1 1"/>
<circle cx="232.70" cy="198.00" r="0.55" fill="#888"/>
<circle cx="232.70" cy="209.00" r="0.55" fill="#888"/>
<rect x="231.00" y="199.00" width="3.4" height="6.50" fill="#f5f5f5" stroke="#a0a0a0" stroke-width="0.6"/>
<line x1="231.00" y1="204.00" x2="234.40" y2="204.00" stroke="#444" stroke-width="1.0" />
<line x1="241.20" y1="195.80" x2="241.20" y2="207.10" stroke="#bbb" stroke-width="0.5" stroke-dasharray="1 1"/>
<line x1="241.20" y1="211.50" x2="241.20" y2="212.00" stroke="#bbb" stroke-width="0.5" stroke-dasharray="1 1"/>
<circle cx="241.20" cy="195.80" r="0.55" fill="#888"/>
<circle cx="241.20" cy="212.00" r="0.55" fill="#888"/>
<rect x="239.50" y="207.10" width="3.4" height="4.40" fill="#f5f5f5" stroke="#a0a0a0" stroke-width="0.6"/>
<line x1="239.50" y1="210.50" x2="242.90" y2="210.50" stroke="#444" stroke-width="1.0" />
<line x1="250.00" y1="209.00" x2="250.00" y2="210.30" stroke="#bbb" stroke-width="0.5" stroke-dasharray="1 1"/>
<line x1="250.00" y1="215.00" x2="250.00" y2="216.90" stroke="#bbb" stroke-width="0.5" stroke-dasharray="1 1"/>
<circle cx="250.00" cy="209.00" r="0.55" fill="#888"/>
<circle cx="250.00" cy="216.90" r="0.55" fill="#888"/>
<rect x="248.30" y="210.30" width="3.4" height="4.70" fill="#f5f5f5" stroke="#a0a0a0" stroke-width="0.6"/>
<line x1="248.30" y1="212.00" x2="251.70" y2="212.00" stroke="#444" stroke-width="1.0" />
<line x1="258.80" y1="207.50" x2="258.80" y2="208.70" stroke="#bbb" stroke-width="0.5" stroke-dasharray="1 1"/>
<line x1="258.80" y1="215.00" x2="258.80" y2="219.70" stroke="#bbb" stroke-width="0.5" stroke-dasharray="1 1"/>
<circle cx="258.80" cy="207.50" r="0.55" fill="#888"/>
<circle cx="258.80" cy="219.70" r="0.55" fill="#888"/>
<rect x="257.10" y="208.70" width="3.4" height="6.30" fill="#f5f5f5" stroke="#a0a0a0" stroke-width="0.6"/>
<line x1="257.10" y1="209.50" x2="260.50" y2="209.50" stroke="#444" stroke-width="1.0" />
<line x1="267.20" y1="207.50" x2="267.20" y2="208.70" stroke="#bbb" stroke-width="0.5" stroke-dasharray="1 1"/>
<line x1="267.20" y1="222.00" x2="267.20" y2="232.50" stroke="#bbb" stroke-width="0.5" stroke-dasharray="1 1"/>
<circle cx="267.20" cy="207.50" r="0.55" fill="#888"/>
<circle cx="267.20" cy="232.50" r="0.55" fill="#888"/>
<rect x="265.50" y="208.70" width="3.4" height="13.30" fill="#f5f5f5" stroke="#a0a0a0" stroke-width="0.6"/>
<line x1="265.50" y1="218.40" x2="268.90" y2="218.40" stroke="#444" stroke-width="1.0" />
<rect x="293.50" y="181.10" width="58.00" height="54.10" fill="none" stroke="#dadada" stroke-width="0.8"/>
<line x1="293.50" y1="235.50" x2="351.50" y2="235.50" stroke="#c8c8c8" stroke-width="0.9" />
<line x1="308.40" y1="181.10" x2="308.40" y2="235.20" stroke="#d8d8d8" stroke-width="0.7" />
<text x="322.50" y="179.20" font-size="4.6" font-weight="bold" text-anchor="middle" fill="#111" stroke="#111" stroke-width="0.2">BRCA1 (<tspan font-style="italic">P</tspan> = 0.124)</text>
<text x="291.30" y="187.65" font-size="4.6" font-weight="normal" text-anchor="end" fill="#222" stroke="#222" stroke-width="0.15">3.0</text>
<line x1="291.90" y1="186.00" x2="293.50" y2="186.00" stroke="#aaa" stroke-width="0.5" />
<text x="291.30" y="200.15" font-size="4.6" font-weight="normal" text-anchor="end" fill="#222" stroke="#222" stroke-width="0.15">2.5</text>
<line x1="291.90" y1="198.50" x2="293.50" y2="198.50" stroke="#aaa" stroke-width="0.5" />
<text x="291.30" y="212.85" font-size="4.6" font-weight="normal" text-anchor="end" fill="#222" stroke="#222" stroke-width="0.15">2.0</text>
<line x1="291.90" y1="211.20" x2="293.50" y2="211.20" stroke="#aaa" stroke-width="0.5" />
<text x="291.30" y="225.25" font-size="4.6" font-weight="normal" text-anchor="end" fill="#222" stroke="#222" stroke-width="0.15">1.5</text>
<line x1="291.90" y1="223.60" x2="293.50" y2="223.60" stroke="#aaa" stroke-width="0.5" />
<text x="282.80" y="207.70" font-size="4.65" font-weight="normal" text-anchor="middle" fill="#222" stroke="#222" stroke-width="0.12" transform="rotate(-90 282.80 207.70)">Protein expression level</text>
<text x="306.70" y="237.30" font-size="4.6" font-weight="normal" text-anchor="end" fill="#3a3a3a" stroke="#3a3a3a" stroke-width="0.08" transform="rotate(-90 306.70 237.30)">Control</text>
<text x="315.50" y="237.30" font-size="4.6" font-weight="normal" text-anchor="end" fill="#3a3a3a" stroke="#3a3a3a" stroke-width="0.08" transform="rotate(-90 315.50 237.30)">24 h</text>
<text x="323.70" y="237.30" font-size="4.6" font-weight="normal" text-anchor="end" fill="#3a3a3a" stroke="#3a3a3a" stroke-width="0.08" transform="rotate(-90 323.70 237.30)">48 h</text>
<text x="332.60" y="237.30" font-size="4.6" font-weight="normal" text-anchor="end" fill="#3a3a3a" stroke="#3a3a3a" stroke-width="0.08" transform="rotate(-90 332.60 237.30)">4 d</text>
<text x="340.90" y="237.30" font-size="4.6" font-weight="normal" text-anchor="end" fill="#3a3a3a" stroke="#3a3a3a" stroke-width="0.08" transform="rotate(-90 340.90 237.30)">5 d</text>
<text x="349.60" y="237.30" font-size="4.6" font-weight="normal" text-anchor="end" fill="#3a3a3a" stroke="#3a3a3a" stroke-width="0.08" transform="rotate(-90 349.60 237.30)">14 d</text>
<line x1="304.30" y1="196.90" x2="304.30" y2="200.80" stroke="#bbb" stroke-width="0.5" stroke-dasharray="1 1"/>
<line x1="304.30" y1="219.70" x2="304.30" y2="222.50" stroke="#bbb" stroke-width="0.5" stroke-dasharray="1 1"/>
<circle cx="304.30" cy="196.90" r="0.55" fill="#888"/>
<circle cx="304.30" cy="222.50" r="0.55" fill="#888"/>
<rect x="302.60" y="200.80" width="3.4" height="18.90" fill="#f5f5f5" stroke="#a0a0a0" stroke-width="0.6"/>
<line x1="302.60" y1="209.90" x2="306.00" y2="209.90" stroke="#444" stroke-width="1.0" />
<line x1="313.10" y1="196.90" x2="313.10" y2="206.30" stroke="#bbb" stroke-width="0.5" stroke-dasharray="1 1"/>
<line x1="313.10" y1="215.50" x2="313.10" y2="217.50" stroke="#bbb" stroke-width="0.5" stroke-dasharray="1 1"/>
<circle cx="313.10" cy="196.90" r="0.55" fill="#888"/>
<circle cx="313.10" cy="217.50" r="0.55" fill="#888"/>
<rect x="311.40" y="206.30" width="3.4" height="9.20" fill="#f5f5f5" stroke="#a0a0a0" stroke-width="0.6"/>
<line x1="311.40" y1="209.50" x2="314.80" y2="209.50" stroke="#444" stroke-width="1.0" />
<line x1="321.30" y1="193.80" x2="321.30" y2="200.10" stroke="#bbb" stroke-width="0.5" stroke-dasharray="1 1"/>
<line x1="321.30" y1="226.50" x2="321.30" y2="229.50" stroke="#bbb" stroke-width="0.5" stroke-dasharray="1 1"/>
<circle cx="321.30" cy="193.80" r="0.55" fill="#888"/>
<circle cx="321.30" cy="229.50" r="0.55" fill="#888"/>
<rect x="319.60" y="200.10" width="3.4" height="26.40" fill="#f5f5f5" stroke="#a0a0a0" stroke-width="0.6"/>
<line x1="319.60" y1="211.00" x2="323.00" y2="211.00" stroke="#444" stroke-width="1.0" />
<line x1="330.20" y1="198.50" x2="330.20" y2="202.40" stroke="#bbb" stroke-width="0.5" stroke-dasharray="1 1"/>
<line x1="330.20" y1="223.10" x2="330.20" y2="226.70" stroke="#bbb" stroke-width="0.5" stroke-dasharray="1 1"/>
<circle cx="330.20" cy="198.50" r="0.55" fill="#888"/>
<circle cx="330.20" cy="226.70" r="0.55" fill="#888"/>
<rect x="328.50" y="202.40" width="3.4" height="20.70" fill="#f5f5f5" stroke="#a0a0a0" stroke-width="0.6"/>
<line x1="328.50" y1="209.90" x2="331.90" y2="209.90" stroke="#444" stroke-width="1.0" />
<line x1="338.50" y1="200.80" x2="338.50" y2="204.30" stroke="#bbb" stroke-width="0.5" stroke-dasharray="1 1"/>
<line x1="338.50" y1="219.70" x2="338.50" y2="226.00" stroke="#bbb" stroke-width="0.5" stroke-dasharray="1 1"/>
<circle cx="338.50" cy="200.80" r="0.55" fill="#888"/>
<circle cx="338.50" cy="226.00" r="0.55" fill="#888"/>
<rect x="336.80" y="204.30" width="3.4" height="15.40" fill="#f5f5f5" stroke="#a0a0a0" stroke-width="0.6"/>
<line x1="336.80" y1="214.20" x2="340.20" y2="214.20" stroke="#444" stroke-width="1.0" />
<line x1="347.20" y1="218.90" x2="347.20" y2="219.70" stroke="#bbb" stroke-width="0.5" stroke-dasharray="1 1"/>
<line x1="347.20" y1="230.70" x2="347.20" y2="232.50" stroke="#bbb" stroke-width="0.5" stroke-dasharray="1 1"/>
<circle cx="347.20" cy="218.90" r="0.55" fill="#888"/>
<circle cx="347.20" cy="232.50" r="0.55" fill="#888"/>
<rect x="345.50" y="219.70" width="3.4" height="11.00" fill="#f5f5f5" stroke="#a0a0a0" stroke-width="0.6"/>
<line x1="345.50" y1="223.60" x2="348.90" y2="223.60" stroke="#444" stroke-width="1.0" />
<rect x="380.50" y="181.10" width="57.20" height="54.10" fill="none" stroke="#dadada" stroke-width="0.8"/>
<line x1="380.50" y1="235.50" x2="437.70" y2="235.50" stroke="#c8c8c8" stroke-width="0.9" />
<line x1="395.30" y1="181.10" x2="395.30" y2="235.20" stroke="#d8d8d8" stroke-width="0.7" />
<text x="409.10" y="179.20" font-size="4.6" font-weight="bold" text-anchor="middle" fill="#111" stroke="#111" stroke-width="0.2">TS (<tspan font-style="italic">P</tspan> = 2.77e&#8722;08)</text>
<text x="378.70" y="188.55" font-size="4.6" font-weight="normal" text-anchor="end" fill="#222" stroke="#222" stroke-width="0.15">3.0</text>
<line x1="379.30" y1="186.90" x2="380.50" y2="186.90" stroke="#aaa" stroke-width="0.5" />
<text x="378.70" y="197.95" font-size="4.6" font-weight="normal" text-anchor="end" fill="#222" stroke="#222" stroke-width="0.15">2.5</text>
<line x1="379.30" y1="196.30" x2="380.50" y2="196.30" stroke="#aaa" stroke-width="0.5" />
<text x="378.70" y="207.25" font-size="4.6" font-weight="normal" text-anchor="end" fill="#222" stroke="#222" stroke-width="0.15">2.0</text>
<line x1="379.30" y1="205.60" x2="380.50" y2="205.60" stroke="#aaa" stroke-width="0.5" />
<text x="378.70" y="216.65" font-size="4.6" font-weight="normal" text-anchor="end" fill="#222" stroke="#222" stroke-width="0.15">1.5</text>
<line x1="379.30" y1="215.00" x2="380.50" y2="215.00" stroke="#aaa" stroke-width="0.5" />
<text x="378.70" y="225.95" font-size="4.6" font-weight="normal" text-anchor="end" fill="#222" stroke="#222" stroke-width="0.15">1.0</text>
<line x1="379.30" y1="224.30" x2="380.50" y2="224.30" stroke="#aaa" stroke-width="0.5" />
<text x="378.70" y="235.45" font-size="4.6" font-weight="normal" text-anchor="end" fill="#222" stroke="#222" stroke-width="0.15">0.5</text>
<line x1="379.30" y1="233.80" x2="380.50" y2="233.80" stroke="#aaa" stroke-width="0.5" />
<text x="369.40" y="207.70" font-size="4.65" font-weight="normal" text-anchor="middle" fill="#222" stroke="#222" stroke-width="0.12" transform="rotate(-90 369.40 207.70)">Protein expression level</text>
<text x="393.70" y="237.30" font-size="4.6" font-weight="normal" text-anchor="end" fill="#3a3a3a" stroke="#3a3a3a" stroke-width="0.08" transform="rotate(-90 393.70 237.30)">Control</text>
<text x="402.20" y="237.30" font-size="4.6" font-weight="normal" text-anchor="end" fill="#3a3a3a" stroke="#3a3a3a" stroke-width="0.08" transform="rotate(-90 402.20 237.30)">24 h</text>
<text x="410.70" y="237.30" font-size="4.6" font-weight="normal" text-anchor="end" fill="#3a3a3a" stroke="#3a3a3a" stroke-width="0.08" transform="rotate(-90 410.70 237.30)">48 h</text>
<text x="419.20" y="237.30" font-size="4.6" font-weight="normal" text-anchor="end" fill="#3a3a3a" stroke="#3a3a3a" stroke-width="0.08" transform="rotate(-90 419.20 237.30)">4 d</text>
<text x="427.40" y="237.30" font-size="4.6" font-weight="normal" text-anchor="end" fill="#3a3a3a" stroke="#3a3a3a" stroke-width="0.08" transform="rotate(-90 427.40 237.30)">5 d</text>
<text x="436.20" y="237.30" font-size="4.6" font-weight="normal" text-anchor="end" fill="#3a3a3a" stroke="#3a3a3a" stroke-width="0.08" transform="rotate(-90 436.20 237.30)">14 d</text>
<line x1="391.30" y1="198.50" x2="391.30" y2="206.50" stroke="#bbb" stroke-width="0.5" stroke-dasharray="1 1"/>
<line x1="391.30" y1="208.50" x2="391.30" y2="208.60" stroke="#bbb" stroke-width="0.5" stroke-dasharray="1 1"/>
<circle cx="391.30" cy="198.50" r="0.55" fill="#888"/>
<circle cx="391.30" cy="208.60" r="0.55" fill="#888"/>
<rect x="389.60" y="206.50" width="3.4" height="2.00" fill="#f5f5f5" stroke="#a0a0a0" stroke-width="0.6"/>
<line x1="389.60" y1="207.60" x2="393.00" y2="207.60" stroke="#444" stroke-width="1.0" />
<line x1="399.80" y1="197.50" x2="399.80" y2="198.50" stroke="#bbb" stroke-width="0.5" stroke-dasharray="1 1"/>
<line x1="399.80" y1="211.90" x2="399.80" y2="214.50" stroke="#bbb" stroke-width="0.5" stroke-dasharray="1 1"/>
<circle cx="399.80" cy="197.50" r="0.55" fill="#888"/>
<circle cx="399.80" cy="214.50" r="0.55" fill="#888"/>
<rect x="398.10" y="198.50" width="3.4" height="13.40" fill="#f5f5f5" stroke="#a0a0a0" stroke-width="0.6"/>
<line x1="398.10" y1="199.20" x2="401.50" y2="199.20" stroke="#444" stroke-width="1.0" />
<line x1="408.30" y1="199.50" x2="408.30" y2="200.10" stroke="#bbb" stroke-width="0.5" stroke-dasharray="1 1"/>
<line x1="408.30" y1="209.50" x2="408.30" y2="214.50" stroke="#bbb" stroke-width="0.5" stroke-dasharray="1 1"/>
<circle cx="408.30" cy="199.50" r="0.55" fill="#888"/>
<circle cx="408.30" cy="214.50" r="0.55" fill="#888"/>
<rect x="406.60" y="200.10" width="3.4" height="9.40" fill="#f5f5f5" stroke="#a0a0a0" stroke-width="0.6"/>
<line x1="406.60" y1="208.80" x2="410.00" y2="208.80" stroke="#444" stroke-width="1.0" />
<line x1="416.80" y1="210.50" x2="416.80" y2="211.90" stroke="#bbb" stroke-width="0.5" stroke-dasharray="1 1"/>
<line x1="416.80" y1="223.20" x2="416.80" y2="224.50" stroke="#bbb" stroke-width="0.5" stroke-dasharray="1 1"/>
<circle cx="416.80" cy="210.50" r="0.55" fill="#888"/>
<circle cx="416.80" cy="224.50" r="0.55" fill="#888"/>
<rect x="415.10" y="211.90" width="3.4" height="11.30" fill="#f5f5f5" stroke="#a0a0a0" stroke-width="0.6"/>
<line x1="415.10" y1="219.70" x2="418.50" y2="219.70" stroke="#444" stroke-width="1.0" />
<line x1="425.00" y1="214.20" x2="425.00" y2="215.80" stroke="#bbb" stroke-width="0.5" stroke-dasharray="1 1"/>
<line x1="425.00" y1="228.40" x2="425.00" y2="229.00" stroke="#bbb" stroke-width="0.5" stroke-dasharray="1 1"/>
<circle cx="425.00" cy="214.20" r="0.55" fill="#888"/>
<circle cx="425.00" cy="229.00" r="0.55" fill="#888"/>
<rect x="423.30" y="215.80" width="3.4" height="12.60" fill="#f5f5f5" stroke="#a0a0a0" stroke-width="0.6"/>
<line x1="423.30" y1="221.30" x2="426.70" y2="221.30" stroke="#444" stroke-width="1.0" />
<line x1="433.80" y1="226.50" x2="433.80" y2="227.60" stroke="#bbb" stroke-width="0.5" stroke-dasharray="1 1"/>
<line x1="433.80" y1="233.10" x2="433.80" y2="233.50" stroke="#bbb" stroke-width="0.5" stroke-dasharray="1 1"/>
<circle cx="433.80" cy="226.50" r="0.55" fill="#888"/>
<circle cx="433.80" cy="233.50" r="0.55" fill="#888"/>
<rect x="432.10" y="227.60" width="3.4" height="5.50" fill="#f5f5f5" stroke="#a0a0a0" stroke-width="0.6"/>
<line x1="432.10" y1="228.40" x2="435.50" y2="228.40" stroke="#444" stroke-width="1.0" />
<rect x="461.10" y="181.10" width="57.40" height="54.10" fill="none" stroke="#dadada" stroke-width="0.8"/>
<line x1="461.10" y1="235.50" x2="518.50" y2="235.50" stroke="#c8c8c8" stroke-width="0.9" />
<line x1="476.30" y1="181.10" x2="476.30" y2="235.20" stroke="#d8d8d8" stroke-width="0.7" />
<text x="489.80" y="179.20" font-size="4.6" font-weight="bold" text-anchor="middle" fill="#111" stroke="#111" stroke-width="0.2">EZH2 (<tspan font-style="italic">P</tspan> = 0.105)</text>
<text x="459.00" y="182.85" font-size="4.6" font-weight="normal" text-anchor="end" fill="#222" stroke="#222" stroke-width="0.15">-1.4</text>
<line x1="459.60" y1="181.20" x2="461.10" y2="181.20" stroke="#aaa" stroke-width="0.5" />
<text x="459.00" y="196.45" font-size="4.6" font-weight="normal" text-anchor="end" fill="#222" stroke="#222" stroke-width="0.15">-1.6</text>
<line x1="459.60" y1="194.80" x2="461.10" y2="194.80" stroke="#aaa" stroke-width="0.5" />
<text x="459.00" y="209.65" font-size="4.6" font-weight="normal" text-anchor="end" fill="#222" stroke="#222" stroke-width="0.15">-1.8</text>
<line x1="459.60" y1="208.00" x2="461.10" y2="208.00" stroke="#aaa" stroke-width="0.5" />
<text x="459.00" y="222.85" font-size="4.6" font-weight="normal" text-anchor="end" fill="#222" stroke="#222" stroke-width="0.15">-2.0</text>
<line x1="459.60" y1="221.20" x2="461.10" y2="221.20" stroke="#aaa" stroke-width="0.5" />
<text x="448.70" y="207.70" font-size="4.65" font-weight="normal" text-anchor="middle" fill="#222" stroke="#222" stroke-width="0.12" transform="rotate(-90 448.70 207.70)">Protein expression level</text>
<text x="474.40" y="237.30" font-size="4.6" font-weight="normal" text-anchor="end" fill="#3a3a3a" stroke="#3a3a3a" stroke-width="0.08" transform="rotate(-90 474.40 237.30)">Control</text>
<text x="483.10" y="237.30" font-size="4.6" font-weight="normal" text-anchor="end" fill="#3a3a3a" stroke="#3a3a3a" stroke-width="0.08" transform="rotate(-90 483.10 237.30)">24 h</text>
<text x="491.80" y="237.30" font-size="4.6" font-weight="normal" text-anchor="end" fill="#3a3a3a" stroke="#3a3a3a" stroke-width="0.08" transform="rotate(-90 491.80 237.30)">48 h</text>
<text x="499.90" y="237.30" font-size="4.6" font-weight="normal" text-anchor="end" fill="#3a3a3a" stroke="#3a3a3a" stroke-width="0.08" transform="rotate(-90 499.90 237.30)">4 d</text>
<text x="508.60" y="237.30" font-size="4.6" font-weight="normal" text-anchor="end" fill="#3a3a3a" stroke="#3a3a3a" stroke-width="0.08" transform="rotate(-90 508.60 237.30)">5 d</text>
<text x="516.40" y="237.30" font-size="4.6" font-weight="normal" text-anchor="end" fill="#3a3a3a" stroke="#3a3a3a" stroke-width="0.08" transform="rotate(-90 516.40 237.30)">14 d</text>
<line x1="472.00" y1="198.00" x2="472.00" y2="199.00" stroke="#bbb" stroke-width="0.5" stroke-dasharray="1 1"/>
<line x1="472.00" y1="220.10" x2="472.00" y2="221.00" stroke="#bbb" stroke-width="0.5" stroke-dasharray="1 1"/>
<circle cx="472.00" cy="198.00" r="0.55" fill="#888"/>
<circle cx="472.00" cy="221.00" r="0.55" fill="#888"/>
<rect x="470.30" y="199.00" width="3.4" height="21.10" fill="#f5f5f5" stroke="#a0a0a0" stroke-width="0.6"/>
<line x1="470.30" y1="205.90" x2="473.70" y2="205.90" stroke="#444" stroke-width="1.0" />
<line x1="480.70" y1="212.00" x2="480.70" y2="213.10" stroke="#bbb" stroke-width="0.5" stroke-dasharray="1 1"/>
<line x1="480.70" y1="224.40" x2="480.70" y2="231.90" stroke="#bbb" stroke-width="0.5" stroke-dasharray="1 1"/>
<circle cx="480.70" cy="212.00" r="0.55" fill="#888"/>
<circle cx="480.70" cy="231.90" r="0.55" fill="#888"/>
<rect x="479.00" y="213.10" width="3.4" height="11.30" fill="#f5f5f5" stroke="#a0a0a0" stroke-width="0.6"/>
<line x1="479.00" y1="218.10" x2="482.40" y2="218.10" stroke="#444" stroke-width="1.0" />
<line x1="489.40" y1="204.00" x2="489.40" y2="205.50" stroke="#bbb" stroke-width="0.5" stroke-dasharray="1 1"/>
<line x1="489.40" y1="224.10" x2="489.40" y2="225.00" stroke="#bbb" stroke-width="0.5" stroke-dasharray="1 1"/>
<circle cx="489.40" cy="204.00" r="0.55" fill="#888"/>
<circle cx="489.40" cy="225.00" r="0.55" fill="#888"/>
<rect x="487.70" y="205.50" width="3.4" height="18.60" fill="#f5f5f5" stroke="#a0a0a0" stroke-width="0.6"/>
<line x1="487.70" y1="212.60" x2="491.10" y2="212.60" stroke="#444" stroke-width="1.0" />
<line x1="497.50" y1="210.30" x2="497.50" y2="213.40" stroke="#bbb" stroke-width="0.5" stroke-dasharray="1 1"/>
<line x1="497.50" y1="215.30" x2="497.50" y2="225.20" stroke="#bbb" stroke-width="0.5" stroke-dasharray="1 1"/>
<circle cx="497.50" cy="210.30" r="0.55" fill="#888"/>
<circle cx="497.50" cy="225.20" r="0.55" fill="#888"/>
<rect x="495.80" y="213.40" width="3.4" height="1.90" fill="#f5f5f5" stroke="#a0a0a0" stroke-width="0.6"/>
<line x1="495.80" y1="214.30" x2="499.20" y2="214.30" stroke="#444" stroke-width="1.0" />
<line x1="506.20" y1="202.40" x2="506.20" y2="207.90" stroke="#bbb" stroke-width="0.5" stroke-dasharray="1 1"/>
<line x1="506.20" y1="220.50" x2="506.20" y2="223.10" stroke="#bbb" stroke-width="0.5" stroke-dasharray="1 1"/>
<circle cx="506.20" cy="202.40" r="0.55" fill="#888"/>
<circle cx="506.20" cy="223.10" r="0.55" fill="#888"/>
<rect x="504.50" y="207.90" width="3.4" height="12.60" fill="#f5f5f5" stroke="#a0a0a0" stroke-width="0.6"/>
<line x1="504.50" y1="210.30" x2="507.90" y2="210.30" stroke="#444" stroke-width="1.0" />
<line x1="514.00" y1="192.20" x2="514.00" y2="193.80" stroke="#bbb" stroke-width="0.5" stroke-dasharray="1 1"/>
<line x1="514.00" y1="210.30" x2="514.00" y2="227.80" stroke="#bbb" stroke-width="0.5" stroke-dasharray="1 1"/>
<circle cx="514.00" cy="192.20" r="0.55" fill="#888"/>
<circle cx="514.00" cy="227.80" r="0.55" fill="#888"/>
<rect x="512.30" y="193.80" width="3.4" height="16.50" fill="#f5f5f5" stroke="#a0a0a0" stroke-width="0.6"/>
<line x1="512.30" y1="200.00" x2="515.70" y2="200.00" stroke="#444" stroke-width="1.0" />
<rect x="57.20" y="272.70" width="57.20" height="55.10" fill="none" stroke="#dadada" stroke-width="0.8"/>
<line x1="57.20" y1="328.10" x2="114.40" y2="328.10" stroke="#c8c8c8" stroke-width="0.9" />
<line x1="72.40" y1="272.70" x2="72.40" y2="327.80" stroke="#d8d8d8" stroke-width="0.7" />
<text x="85.80" y="270.80" font-size="4.6" font-weight="bold" text-anchor="middle" fill="#111" stroke="#111" stroke-width="0.2">Rad51 (<tspan font-style="italic">P</tspan> = 1.49e&#8722;10)</text>
<text x="54.40" y="278.75" font-size="4.6" font-weight="normal" text-anchor="end" fill="#222" stroke="#222" stroke-width="0.15">2.0</text>
<line x1="55.00" y1="277.10" x2="57.20" y2="277.10" stroke="#aaa" stroke-width="0.5" />
<text x="54.40" y="287.15" font-size="4.6" font-weight="normal" text-anchor="end" fill="#222" stroke="#222" stroke-width="0.15">1.8</text>
<line x1="55.00" y1="285.50" x2="57.20" y2="285.50" stroke="#aaa" stroke-width="0.5" />
<text x="54.40" y="295.75" font-size="4.6" font-weight="normal" text-anchor="end" fill="#222" stroke="#222" stroke-width="0.15">1.6</text>
<line x1="55.00" y1="294.10" x2="57.20" y2="294.10" stroke="#aaa" stroke-width="0.5" />
<text x="54.40" y="304.15" font-size="4.6" font-weight="normal" text-anchor="end" fill="#222" stroke="#222" stroke-width="0.15">1.4</text>
<line x1="55.00" y1="302.50" x2="57.20" y2="302.50" stroke="#aaa" stroke-width="0.5" />
<text x="54.40" y="312.65" font-size="4.6" font-weight="normal" text-anchor="end" fill="#222" stroke="#222" stroke-width="0.15">1.2</text>
<line x1="55.00" y1="311.00" x2="57.20" y2="311.00" stroke="#aaa" stroke-width="0.5" />
<text x="54.40" y="320.95" font-size="4.6" font-weight="normal" text-anchor="end" fill="#222" stroke="#222" stroke-width="0.15">1.0</text>
<line x1="55.00" y1="319.30" x2="57.20" y2="319.30" stroke="#aaa" stroke-width="0.5" />
<text x="47.10" y="300.60" font-size="4.65" font-weight="normal" text-anchor="middle" fill="#222" stroke="#222" stroke-width="0.12" transform="rotate(-90 47.10 300.60)">Protein expression level</text>
<text x="70.60" y="329.90" font-size="4.6" font-weight="normal" text-anchor="end" fill="#3a3a3a" stroke="#3a3a3a" stroke-width="0.08" transform="rotate(-90 70.60 329.90)">Control</text>
<text x="78.90" y="329.90" font-size="4.6" font-weight="normal" text-anchor="end" fill="#3a3a3a" stroke="#3a3a3a" stroke-width="0.08" transform="rotate(-90 78.90 329.90)">24 h</text>
<text x="87.40" y="329.90" font-size="4.6" font-weight="normal" text-anchor="end" fill="#3a3a3a" stroke="#3a3a3a" stroke-width="0.08" transform="rotate(-90 87.40 329.90)">48 h</text>
<text x="96.20" y="329.90" font-size="4.6" font-weight="normal" text-anchor="end" fill="#3a3a3a" stroke="#3a3a3a" stroke-width="0.08" transform="rotate(-90 96.20 329.90)">4 d</text>
<text x="104.50" y="329.90" font-size="4.6" font-weight="normal" text-anchor="end" fill="#3a3a3a" stroke="#3a3a3a" stroke-width="0.08" transform="rotate(-90 104.50 329.90)">5 d</text>
<text x="113.40" y="329.90" font-size="4.6" font-weight="normal" text-anchor="end" fill="#3a3a3a" stroke="#3a3a3a" stroke-width="0.08" transform="rotate(-90 113.40 329.90)">14 d</text>
<line x1="68.20" y1="291.00" x2="68.20" y2="291.90" stroke="#bbb" stroke-width="0.5" stroke-dasharray="1 1"/>
<line x1="68.20" y1="295.10" x2="68.20" y2="296.00" stroke="#bbb" stroke-width="0.5" stroke-dasharray="1 1"/>
<circle cx="68.20" cy="291.00" r="0.55" fill="#888"/>
<circle cx="68.20" cy="296.00" r="0.55" fill="#888"/>
<rect x="66.50" y="291.90" width="3.4" height="3.20" fill="#f5f5f5" stroke="#a0a0a0" stroke-width="0.6"/>
<line x1="66.50" y1="294.00" x2="69.90" y2="294.00" stroke="#444" stroke-width="1.0" />
<line x1="76.50" y1="284.50" x2="76.50" y2="287.10" stroke="#bbb" stroke-width="0.5" stroke-dasharray="1 1"/>
<line x1="76.50" y1="293.00" x2="76.50" y2="295.40" stroke="#bbb" stroke-width="0.5" stroke-dasharray="1 1"/>
<circle cx="76.50" cy="284.50" r="0.55" fill="#888"/>
<circle cx="76.50" cy="295.40" r="0.55" fill="#888"/>
<rect x="74.80" y="287.10" width="3.4" height="5.90" fill="#f5f5f5" stroke="#a0a0a0" stroke-width="0.6"/>
<line x1="74.80" y1="291.90" x2="78.20" y2="291.90" stroke="#444" stroke-width="1.0" />
<line x1="85.00" y1="289.80" x2="85.00" y2="291.90" stroke="#bbb" stroke-width="0.5" stroke-dasharray="1 1"/>
<line x1="85.00" y1="295.70" x2="85.00" y2="296.50" stroke="#bbb" stroke-width="0.5" stroke-dasharray="1 1"/>
<circle cx="85.00" cy="289.80" r="0.55" fill="#888"/>
<circle cx="85.00" cy="296.50" r="0.55" fill="#888"/>
<rect x="83.30" y="291.90" width="3.4" height="3.80" fill="#f5f5f5" stroke="#a0a0a0" stroke-width="0.6"/>
<line x1="83.30" y1="294.00" x2="86.70" y2="294.00" stroke="#444" stroke-width="1.0" />
<line x1="93.80" y1="295.40" x2="93.80" y2="297.80" stroke="#bbb" stroke-width="0.5" stroke-dasharray="1 1"/>
<line x1="93.80" y1="303.10" x2="93.80" y2="304.50" stroke="#bbb" stroke-width="0.5" stroke-dasharray="1 1"/>
<circle cx="93.80" cy="295.40" r="0.55" fill="#888"/>
<circle cx="93.80" cy="304.50" r="0.55" fill="#888"/>
<rect x="92.10" y="297.80" width="3.4" height="5.30" fill="#f5f5f5" stroke="#a0a0a0" stroke-width="0.6"/>
<line x1="92.10" y1="301.80" x2="95.50" y2="301.80" stroke="#444" stroke-width="1.0" />
<line x1="102.10" y1="297.80" x2="102.10" y2="301.50" stroke="#bbb" stroke-width="0.5" stroke-dasharray="1 1"/>
<line x1="102.10" y1="309.50" x2="102.10" y2="310.50" stroke="#bbb" stroke-width="0.5" stroke-dasharray="1 1"/>
<circle cx="102.10" cy="297.80" r="0.55" fill="#888"/>
<circle cx="102.10" cy="310.50" r="0.55" fill="#888"/>
<rect x="100.40" y="301.50" width="3.4" height="8.00" fill="#f5f5f5" stroke="#a0a0a0" stroke-width="0.6"/>
<line x1="100.40" y1="303.40" x2="103.80" y2="303.40" stroke="#444" stroke-width="1.0" />
<line x1="111.00" y1="310.50" x2="111.00" y2="311.40" stroke="#bbb" stroke-width="0.5" stroke-dasharray="1 1"/>
<line x1="111.00" y1="319.70" x2="111.00" y2="325.00" stroke="#bbb" stroke-width="0.5" stroke-dasharray="1 1"/>
<circle cx="111.00" cy="310.50" r="0.55" fill="#888"/>
<circle cx="111.00" cy="325.00" r="0.55" fill="#888"/>
<rect x="109.30" y="311.40" width="3.4" height="8.30" fill="#f5f5f5" stroke="#a0a0a0" stroke-width="0.6"/>
<line x1="109.30" y1="315.90" x2="112.70" y2="315.90" stroke="#444" stroke-width="1.0" />
<rect x="136.20" y="272.70" width="56.40" height="55.10" fill="none" stroke="#dadada" stroke-width="0.8"/>
<line x1="136.20" y1="328.10" x2="192.60" y2="328.10" stroke="#c8c8c8" stroke-width="0.9" />
<line x1="151.10" y1="272.70" x2="151.10" y2="327.80" stroke="#d8d8d8" stroke-width="0.7" />
<text x="164.40" y="270.80" font-size="4.6" font-weight="bold" text-anchor="middle" fill="#111" stroke="#111" stroke-width="0.2">PCNA (<tspan font-style="italic">P</tspan> = 2.74e&#8722;04)</text>
<text x="134.30" y="275.75" font-size="4.6" font-weight="normal" text-anchor="end" fill="#222" stroke="#222" stroke-width="0.15">2.4</text>
<line x1="134.90" y1="274.10" x2="136.20" y2="274.10" stroke="#aaa" stroke-width="0.5" />
<text x="134.30" y="283.15" font-size="4.6" font-weight="normal" text-anchor="end" fill="#222" stroke="#222" stroke-width="0.15">2.2</text>
<line x1="134.90" y1="281.50" x2="136.20" y2="281.50" stroke="#aaa" stroke-width="0.5" />
<text x="134.30" y="290.55" font-size="4.6" font-weight="normal" text-anchor="end" fill="#222" stroke="#222" stroke-width="0.15">2.0</text>
<line x1="134.90" y1="288.90" x2="136.20" y2="288.90" stroke="#aaa" stroke-width="0.5" />
<text x="134.30" y="297.95" font-size="4.6" font-weight="normal" text-anchor="end" fill="#222" stroke="#222" stroke-width="0.15">1.8</text>
<line x1="134.90" y1="296.30" x2="136.20" y2="296.30" stroke="#aaa" stroke-width="0.5" />
<text x="134.30" y="305.35" font-size="4.6" font-weight="normal" text-anchor="end" fill="#222" stroke="#222" stroke-width="0.15">1.6</text>
<line x1="134.90" y1="303.70" x2="136.20" y2="303.70" stroke="#aaa" stroke-width="0.5" />
<text x="134.30" y="312.85" font-size="4.6" font-weight="normal" text-anchor="end" fill="#222" stroke="#222" stroke-width="0.15">1.4</text>
<line x1="134.90" y1="311.20" x2="136.20" y2="311.20" stroke="#aaa" stroke-width="0.5" />
<text x="134.30" y="320.25" font-size="4.6" font-weight="normal" text-anchor="end" fill="#222" stroke="#222" stroke-width="0.15">1.2</text>
<line x1="134.90" y1="318.60" x2="136.20" y2="318.60" stroke="#aaa" stroke-width="0.5" />
<text x="134.30" y="327.65" font-size="4.6" font-weight="normal" text-anchor="end" fill="#222" stroke="#222" stroke-width="0.15">1.0</text>
<line x1="134.90" y1="326.00" x2="136.20" y2="326.00" stroke="#aaa" stroke-width="0.5" />
<text x="125.80" y="300.60" font-size="4.65" font-weight="normal" text-anchor="middle" fill="#222" stroke="#222" stroke-width="0.12" transform="rotate(-90 125.80 300.60)">Protein expression level</text>
<text x="148.80" y="329.90" font-size="4.6" font-weight="normal" text-anchor="end" fill="#3a3a3a" stroke="#3a3a3a" stroke-width="0.08" transform="rotate(-90 148.80 329.90)">Control</text>
<text x="157.60" y="329.90" font-size="4.6" font-weight="normal" text-anchor="end" fill="#3a3a3a" stroke="#3a3a3a" stroke-width="0.08" transform="rotate(-90 157.60 329.90)">24 h</text>
<text x="165.90" y="329.90" font-size="4.6" font-weight="normal" text-anchor="end" fill="#3a3a3a" stroke="#3a3a3a" stroke-width="0.08" transform="rotate(-90 165.90 329.90)">48 h</text>
<text x="174.70" y="329.90" font-size="4.6" font-weight="normal" text-anchor="end" fill="#3a3a3a" stroke="#3a3a3a" stroke-width="0.08" transform="rotate(-90 174.70 329.90)">4 d</text>
<text x="183.20" y="329.90" font-size="4.6" font-weight="normal" text-anchor="end" fill="#3a3a3a" stroke="#3a3a3a" stroke-width="0.08" transform="rotate(-90 183.20 329.90)">5 d</text>
<text x="191.80" y="329.90" font-size="4.6" font-weight="normal" text-anchor="end" fill="#3a3a3a" stroke="#3a3a3a" stroke-width="0.08" transform="rotate(-90 191.80 329.90)">14 d</text>
<line x1="146.40" y1="287.10" x2="146.40" y2="288.20" stroke="#bbb" stroke-width="0.5" stroke-dasharray="1 1"/>
<line x1="146.40" y1="295.40" x2="146.40" y2="296.00" stroke="#bbb" stroke-width="0.5" stroke-dasharray="1 1"/>
<circle cx="146.40" cy="287.10" r="0.55" fill="#888"/>
<circle cx="146.40" cy="296.00" r="0.55" fill="#888"/>
<rect x="144.70" y="288.20" width="3.4" height="7.20" fill="#f5f5f5" stroke="#a0a0a0" stroke-width="0.6"/>
<line x1="144.70" y1="289.50" x2="148.10" y2="289.50" stroke="#444" stroke-width="1.0" />
<line x1="155.20" y1="292.20" x2="155.20" y2="293.80" stroke="#bbb" stroke-width="0.5" stroke-dasharray="1 1"/>
<line x1="155.20" y1="301.80" x2="155.20" y2="302.50" stroke="#bbb" stroke-width="0.5" stroke-dasharray="1 1"/>
<circle cx="155.20" cy="292.20" r="0.55" fill="#888"/>
<circle cx="155.20" cy="302.50" r="0.55" fill="#888"/>
<rect x="153.50" y="293.80" width="3.4" height="8.00" fill="#f5f5f5" stroke="#a0a0a0" stroke-width="0.6"/>
<line x1="153.50" y1="297.00" x2="156.90" y2="297.00" stroke="#444" stroke-width="1.0" />
<line x1="163.50" y1="294.00" x2="163.50" y2="295.00" stroke="#bbb" stroke-width="0.5" stroke-dasharray="1 1"/>
<line x1="163.50" y1="299.40" x2="163.50" y2="300.50" stroke="#bbb" stroke-width="0.5" stroke-dasharray="1 1"/>
<circle cx="163.50" cy="294.00" r="0.55" fill="#888"/>
<circle cx="163.50" cy="300.50" r="0.55" fill="#888"/>
<rect x="161.80" y="295.00" width="3.4" height="4.40" fill="#f5f5f5" stroke="#a0a0a0" stroke-width="0.6"/>
<line x1="161.80" y1="297.00" x2="165.20" y2="297.00" stroke="#444" stroke-width="1.0" />
<line x1="172.30" y1="284.20" x2="172.30" y2="295.40" stroke="#bbb" stroke-width="0.5" stroke-dasharray="1 1"/>
<line x1="172.30" y1="299.40" x2="172.30" y2="302.10" stroke="#bbb" stroke-width="0.5" stroke-dasharray="1 1"/>
<circle cx="172.30" cy="284.20" r="0.55" fill="#888"/>
<circle cx="172.30" cy="302.10" r="0.55" fill="#888"/>
<rect x="170.60" y="295.40" width="3.4" height="4.00" fill="#f5f5f5" stroke="#a0a0a0" stroke-width="0.6"/>
<line x1="170.60" y1="297.00" x2="174.00" y2="297.00" stroke="#444" stroke-width="1.0" />
<line x1="180.80" y1="288.20" x2="180.80" y2="293.00" stroke="#bbb" stroke-width="0.5" stroke-dasharray="1 1"/>
<line x1="180.80" y1="303.40" x2="180.80" y2="305.80" stroke="#bbb" stroke-width="0.5" stroke-dasharray="1 1"/>
<circle cx="180.80" cy="288.20" r="0.55" fill="#888"/>
<circle cx="180.80" cy="305.80" r="0.55" fill="#888"/>
<rect x="179.10" y="293.00" width="3.4" height="10.40" fill="#f5f5f5" stroke="#a0a0a0" stroke-width="0.6"/>
<line x1="179.10" y1="297.00" x2="182.50" y2="297.00" stroke="#444" stroke-width="1.0" />
<line x1="189.40" y1="300.20" x2="189.40" y2="304.20" stroke="#bbb" stroke-width="0.5" stroke-dasharray="1 1"/>
<line x1="189.40" y1="322.60" x2="189.40" y2="325.00" stroke="#bbb" stroke-width="0.5" stroke-dasharray="1 1"/>
<circle cx="189.40" cy="300.20" r="0.55" fill="#888"/>
<circle cx="189.40" cy="325.00" r="0.55" fill="#888"/>
<rect x="187.70" y="304.20" width="3.4" height="18.40" fill="#f5f5f5" stroke="#a0a0a0" stroke-width="0.6"/>
<line x1="187.70" y1="310.60" x2="191.10" y2="310.60" stroke="#444" stroke-width="1.0" />
<rect x="213.40" y="272.70" width="58.30" height="55.10" fill="none" stroke="#dadada" stroke-width="0.8"/>
<line x1="213.40" y1="328.10" x2="271.70" y2="328.10" stroke="#c8c8c8" stroke-width="0.9" />
<line x1="229.00" y1="272.70" x2="229.00" y2="327.80" stroke="#d8d8d8" stroke-width="0.7" />
<text x="242.55" y="270.80" font-size="4.6" font-weight="bold" text-anchor="middle" fill="#111" stroke="#111" stroke-width="0.2">CHK1 (<tspan font-style="italic">P</tspan> = 0.005)</text>
<text x="211.80" y="282.95" font-size="4.6" font-weight="normal" text-anchor="end" fill="#222" stroke="#222" stroke-width="0.15">0.6</text>
<line x1="212.40" y1="281.30" x2="213.40" y2="281.30" stroke="#aaa" stroke-width="0.5" />
<text x="211.80" y="294.25" font-size="4.6" font-weight="normal" text-anchor="end" fill="#222" stroke="#222" stroke-width="0.15">0.4</text>
<line x1="212.40" y1="292.60" x2="213.40" y2="292.60" stroke="#aaa" stroke-width="0.5" />
<text x="211.80" y="305.35" font-size="4.6" font-weight="normal" text-anchor="end" fill="#222" stroke="#222" stroke-width="0.15">0.2</text>
<line x1="212.40" y1="303.70" x2="213.40" y2="303.70" stroke="#aaa" stroke-width="0.5" />
<text x="211.80" y="316.65" font-size="4.6" font-weight="normal" text-anchor="end" fill="#222" stroke="#222" stroke-width="0.15">0.0</text>
<line x1="212.40" y1="315.00" x2="213.40" y2="315.00" stroke="#aaa" stroke-width="0.5" />
<text x="211.80" y="327.95" font-size="4.6" font-weight="normal" text-anchor="end" fill="#222" stroke="#222" stroke-width="0.15">-0.2</text>
<line x1="212.40" y1="326.30" x2="213.40" y2="326.30" stroke="#aaa" stroke-width="0.5" />
<text x="201.90" y="300.60" font-size="4.65" font-weight="normal" text-anchor="middle" fill="#222" stroke="#222" stroke-width="0.12" transform="rotate(-90 201.90 300.60)">Protein expression level</text>
<text x="226.60" y="329.90" font-size="4.6" font-weight="normal" text-anchor="end" fill="#3a3a3a" stroke="#3a3a3a" stroke-width="0.08" transform="rotate(-90 226.60 329.90)">Control</text>
<text x="235.40" y="329.90" font-size="4.6" font-weight="normal" text-anchor="end" fill="#3a3a3a" stroke="#3a3a3a" stroke-width="0.08" transform="rotate(-90 235.40 329.90)">24 h</text>
<text x="243.90" y="329.90" font-size="4.6" font-weight="normal" text-anchor="end" fill="#3a3a3a" stroke="#3a3a3a" stroke-width="0.08" transform="rotate(-90 243.90 329.90)">48 h</text>
<text x="252.50" y="329.90" font-size="4.6" font-weight="normal" text-anchor="end" fill="#3a3a3a" stroke="#3a3a3a" stroke-width="0.08" transform="rotate(-90 252.50 329.90)">4 d</text>
<text x="261.00" y="329.90" font-size="4.6" font-weight="normal" text-anchor="end" fill="#3a3a3a" stroke="#3a3a3a" stroke-width="0.08" transform="rotate(-90 261.00 329.90)">5 d</text>
<text x="269.50" y="329.90" font-size="4.6" font-weight="normal" text-anchor="end" fill="#3a3a3a" stroke="#3a3a3a" stroke-width="0.08" transform="rotate(-90 269.50 329.90)">14 d</text>
<line x1="224.20" y1="283.90" x2="224.20" y2="295.40" stroke="#bbb" stroke-width="0.5" stroke-dasharray="1 1"/>
<line x1="224.20" y1="304.20" x2="224.20" y2="305.00" stroke="#bbb" stroke-width="0.5" stroke-dasharray="1 1"/>
<circle cx="224.20" cy="283.90" r="0.55" fill="#888"/>
<circle cx="224.20" cy="305.00" r="0.55" fill="#888"/>
<rect x="222.50" y="295.40" width="3.4" height="8.80" fill="#f5f5f5" stroke="#a0a0a0" stroke-width="0.6"/>
<line x1="222.50" y1="303.20" x2="225.90" y2="303.20" stroke="#444" stroke-width="1.0" />
<line x1="233.00" y1="297.00" x2="233.00" y2="297.80" stroke="#bbb" stroke-width="0.5" stroke-dasharray="1 1"/>
<line x1="233.00" y1="307.40" x2="233.00" y2="309.00" stroke="#bbb" stroke-width="0.5" stroke-dasharray="1 1"/>
<circle cx="233.00" cy="297.00" r="0.55" fill="#888"/>
<circle cx="233.00" cy="309.00" r="0.55" fill="#888"/>
<rect x="231.30" y="297.80" width="3.4" height="9.60" fill="#f5f5f5" stroke="#a0a0a0" stroke-width="0.6"/>
<line x1="231.30" y1="301.00" x2="234.70" y2="301.00" stroke="#444" stroke-width="1.0" />
<line x1="241.50" y1="296.20" x2="241.50" y2="299.90" stroke="#bbb" stroke-width="0.5" stroke-dasharray="1 1"/>
<line x1="241.50" y1="311.10" x2="241.50" y2="316.20" stroke="#bbb" stroke-width="0.5" stroke-dasharray="1 1"/>
<circle cx="241.50" cy="296.20" r="0.55" fill="#888"/>
<circle cx="241.50" cy="316.20" r="0.55" fill="#888"/>
<rect x="239.80" y="299.90" width="3.4" height="11.20" fill="#f5f5f5" stroke="#a0a0a0" stroke-width="0.6"/>
<line x1="239.80" y1="307.10" x2="243.20" y2="307.10" stroke="#444" stroke-width="1.0" />
<line x1="250.10" y1="299.90" x2="250.10" y2="302.60" stroke="#bbb" stroke-width="0.5" stroke-dasharray="1 1"/>
<line x1="250.10" y1="310.60" x2="250.10" y2="312.70" stroke="#bbb" stroke-width="0.5" stroke-dasharray="1 1"/>
<circle cx="250.10" cy="299.90" r="0.55" fill="#888"/>
<circle cx="250.10" cy="312.70" r="0.55" fill="#888"/>
<rect x="248.40" y="302.60" width="3.4" height="8.00" fill="#f5f5f5" stroke="#a0a0a0" stroke-width="0.6"/>
<line x1="248.40" y1="307.90" x2="251.80" y2="307.90" stroke="#444" stroke-width="1.0" />
<line x1="258.60" y1="301.80" x2="258.60" y2="305.00" stroke="#bbb" stroke-width="0.5" stroke-dasharray="1 1"/>
<line x1="258.60" y1="313.80" x2="258.60" y2="324.20" stroke="#bbb" stroke-width="0.5" stroke-dasharray="1 1"/>
<circle cx="258.60" cy="301.80" r="0.55" fill="#888"/>
<circle cx="258.60" cy="324.20" r="0.55" fill="#888"/>
<rect x="256.90" y="305.00" width="3.4" height="8.80" fill="#f5f5f5" stroke="#a0a0a0" stroke-width="0.6"/>
<line x1="256.90" y1="308.20" x2="260.30" y2="308.20" stroke="#444" stroke-width="1.0" />
<line x1="267.10" y1="299.40" x2="267.10" y2="305.80" stroke="#bbb" stroke-width="0.5" stroke-dasharray="1 1"/>
<line x1="267.10" y1="325.00" x2="267.10" y2="326.00" stroke="#bbb" stroke-width="0.5" stroke-dasharray="1 1"/>
<circle cx="267.10" cy="299.40" r="0.55" fill="#888"/>
<circle cx="267.10" cy="326.00" r="0.55" fill="#888"/>
<rect x="265.40" y="305.80" width="3.4" height="19.20" fill="#f5f5f5" stroke="#a0a0a0" stroke-width="0.6"/>
<line x1="265.40" y1="314.90" x2="268.80" y2="314.90" stroke="#444" stroke-width="1.0" />
<rect x="291.90" y="272.70" width="57.90" height="55.10" fill="none" stroke="#dadada" stroke-width="0.8"/>
<line x1="291.90" y1="328.10" x2="349.80" y2="328.10" stroke="#c8c8c8" stroke-width="0.9" />
<line x1="306.60" y1="272.70" x2="306.60" y2="327.80" stroke="#d8d8d8" stroke-width="0.7" />
<text x="320.85" y="270.80" font-size="4.6" font-weight="bold" text-anchor="middle" fill="#111" stroke="#111" stroke-width="0.2">BRCA1 (<tspan font-style="italic">P</tspan> = 0.004)</text>
<text x="289.80" y="280.05" font-size="4.6" font-weight="normal" text-anchor="end" fill="#222" stroke="#222" stroke-width="0.15">3.0</text>
<line x1="290.40" y1="278.40" x2="291.90" y2="278.40" stroke="#aaa" stroke-width="0.5" />
<text x="289.80" y="293.05" font-size="4.6" font-weight="normal" text-anchor="end" fill="#222" stroke="#222" stroke-width="0.15">2.5</text>
<line x1="290.40" y1="291.40" x2="291.90" y2="291.40" stroke="#aaa" stroke-width="0.5" />
<text x="289.80" y="305.55" font-size="4.6" font-weight="normal" text-anchor="end" fill="#222" stroke="#222" stroke-width="0.15">2.0</text>
<line x1="290.40" y1="303.90" x2="291.90" y2="303.90" stroke="#aaa" stroke-width="0.5" />
<text x="289.80" y="318.35" font-size="4.6" font-weight="normal" text-anchor="end" fill="#222" stroke="#222" stroke-width="0.15">1.5</text>
<line x1="290.40" y1="316.70" x2="291.90" y2="316.70" stroke="#aaa" stroke-width="0.5" />
<text x="280.80" y="300.60" font-size="4.65" font-weight="normal" text-anchor="middle" fill="#222" stroke="#222" stroke-width="0.12" transform="rotate(-90 280.80 300.60)">Protein expression level</text>
<text x="304.80" y="329.90" font-size="4.6" font-weight="normal" text-anchor="end" fill="#3a3a3a" stroke="#3a3a3a" stroke-width="0.08" transform="rotate(-90 304.80 329.90)">Control</text>
<text x="313.30" y="329.90" font-size="4.6" font-weight="normal" text-anchor="end" fill="#3a3a3a" stroke="#3a3a3a" stroke-width="0.08" transform="rotate(-90 313.30 329.90)">24 h</text>
<text x="321.90" y="329.90" font-size="4.6" font-weight="normal" text-anchor="end" fill="#3a3a3a" stroke="#3a3a3a" stroke-width="0.08" transform="rotate(-90 321.90 329.90)">48 h</text>
<text x="330.90" y="329.90" font-size="4.6" font-weight="normal" text-anchor="end" fill="#3a3a3a" stroke="#3a3a3a" stroke-width="0.08" transform="rotate(-90 330.90 329.90)">4 d</text>
<text x="339.20" y="329.90" font-size="4.6" font-weight="normal" text-anchor="end" fill="#3a3a3a" stroke="#3a3a3a" stroke-width="0.08" transform="rotate(-90 339.20 329.90)">5 d</text>
<text x="348.00" y="329.90" font-size="4.6" font-weight="normal" text-anchor="end" fill="#3a3a3a" stroke="#3a3a3a" stroke-width="0.08" transform="rotate(-90 348.00 329.90)">14 d</text>
<line x1="302.40" y1="287.70" x2="302.40" y2="291.90" stroke="#bbb" stroke-width="0.5" stroke-dasharray="1 1"/>
<line x1="302.40" y1="306.60" x2="302.40" y2="315.90" stroke="#bbb" stroke-width="0.5" stroke-dasharray="1 1"/>
<circle cx="302.40" cy="287.70" r="0.55" fill="#888"/>
<circle cx="302.40" cy="315.90" r="0.55" fill="#888"/>
<rect x="300.70" y="291.90" width="3.4" height="14.70" fill="#f5f5f5" stroke="#a0a0a0" stroke-width="0.6"/>
<line x1="300.70" y1="299.40" x2="304.10" y2="299.40" stroke="#444" stroke-width="1.0" />
<line x1="310.90" y1="285.00" x2="310.90" y2="295.40" stroke="#bbb" stroke-width="0.5" stroke-dasharray="1 1"/>
<line x1="310.90" y1="303.10" x2="310.90" y2="317.80" stroke="#bbb" stroke-width="0.5" stroke-dasharray="1 1"/>
<circle cx="310.90" cy="285.00" r="0.55" fill="#888"/>
<circle cx="310.90" cy="317.80" r="0.55" fill="#888"/>
<rect x="309.20" y="295.40" width="3.4" height="7.70" fill="#f5f5f5" stroke="#a0a0a0" stroke-width="0.6"/>
<line x1="309.20" y1="301.50" x2="312.60" y2="301.50" stroke="#444" stroke-width="1.0" />
<line x1="319.50" y1="287.10" x2="319.50" y2="293.00" stroke="#bbb" stroke-width="0.5" stroke-dasharray="1 1"/>
<line x1="319.50" y1="298.60" x2="319.50" y2="305.00" stroke="#bbb" stroke-width="0.5" stroke-dasharray="1 1"/>
<circle cx="319.50" cy="287.10" r="0.55" fill="#888"/>
<circle cx="319.50" cy="305.00" r="0.55" fill="#888"/>
<rect x="317.80" y="293.00" width="3.4" height="5.60" fill="#f5f5f5" stroke="#a0a0a0" stroke-width="0.6"/>
<line x1="317.80" y1="295.40" x2="321.20" y2="295.40" stroke="#444" stroke-width="1.0" />
<line x1="328.50" y1="286.60" x2="328.50" y2="289.00" stroke="#bbb" stroke-width="0.5" stroke-dasharray="1 1"/>
<line x1="328.50" y1="303.40" x2="328.50" y2="305.00" stroke="#bbb" stroke-width="0.5" stroke-dasharray="1 1"/>
<circle cx="328.50" cy="286.60" r="0.55" fill="#888"/>
<circle cx="328.50" cy="305.00" r="0.55" fill="#888"/>
<rect x="326.80" y="289.00" width="3.4" height="14.40" fill="#f5f5f5" stroke="#a0a0a0" stroke-width="0.6"/>
<line x1="326.80" y1="293.80" x2="330.20" y2="293.80" stroke="#444" stroke-width="1.0" />
<line x1="336.80" y1="293.00" x2="336.80" y2="299.40" stroke="#bbb" stroke-width="0.5" stroke-dasharray="1 1"/>
<line x1="336.80" y1="306.60" x2="336.80" y2="313.00" stroke="#bbb" stroke-width="0.5" stroke-dasharray="1 1"/>
<circle cx="336.80" cy="293.00" r="0.55" fill="#888"/>
<circle cx="336.80" cy="313.00" r="0.55" fill="#888"/>
<rect x="335.10" y="299.40" width="3.4" height="7.20" fill="#f5f5f5" stroke="#a0a0a0" stroke-width="0.6"/>
<line x1="335.10" y1="302.60" x2="338.50" y2="302.60" stroke="#444" stroke-width="1.0" />
<line x1="345.60" y1="309.00" x2="345.60" y2="311.40" stroke="#bbb" stroke-width="0.5" stroke-dasharray="1 1"/>
<line x1="345.60" y1="316.20" x2="345.60" y2="317.00" stroke="#bbb" stroke-width="0.5" stroke-dasharray="1 1"/>
<circle cx="345.60" cy="309.00" r="0.55" fill="#888"/>
<circle cx="345.60" cy="317.00" r="0.55" fill="#888"/>
<rect x="343.90" y="311.40" width="3.4" height="4.80" fill="#f5f5f5" stroke="#a0a0a0" stroke-width="0.6"/>
<line x1="343.90" y1="315.40" x2="347.30" y2="315.40" stroke="#444" stroke-width="1.0" />
<rect x="380.60" y="272.70" width="57.90" height="55.10" fill="none" stroke="#dadada" stroke-width="0.8"/>
<line x1="380.60" y1="328.10" x2="438.50" y2="328.10" stroke="#c8c8c8" stroke-width="0.9" />
<line x1="396.70" y1="272.70" x2="396.70" y2="327.80" stroke="#d8d8d8" stroke-width="0.7" />
<text x="409.55" y="270.80" font-size="4.6" font-weight="bold" text-anchor="middle" fill="#111" stroke="#111" stroke-width="0.2">TS (<tspan font-style="italic">P</tspan> = 1.24e&#8722;07)</text>
<text x="378.30" y="275.65" font-size="4.6" font-weight="normal" text-anchor="end" fill="#222" stroke="#222" stroke-width="0.15">3.0</text>
<line x1="378.90" y1="274.00" x2="380.60" y2="274.00" stroke="#aaa" stroke-width="0.5" />
<text x="378.30" y="285.95" font-size="4.6" font-weight="normal" text-anchor="end" fill="#222" stroke="#222" stroke-width="0.15">2.5</text>
<line x1="378.90" y1="284.30" x2="380.60" y2="284.30" stroke="#aaa" stroke-width="0.5" />
<text x="378.30" y="296.25" font-size="4.6" font-weight="normal" text-anchor="end" fill="#222" stroke="#222" stroke-width="0.15">2.0</text>
<line x1="378.90" y1="294.60" x2="380.60" y2="294.60" stroke="#aaa" stroke-width="0.5" />
<text x="378.30" y="306.75" font-size="4.6" font-weight="normal" text-anchor="end" fill="#222" stroke="#222" stroke-width="0.15">1.5</text>
<line x1="378.90" y1="305.10" x2="380.60" y2="305.10" stroke="#aaa" stroke-width="0.5" />
<text x="378.30" y="317.25" font-size="4.6" font-weight="normal" text-anchor="end" fill="#222" stroke="#222" stroke-width="0.15">1.0</text>
<line x1="378.90" y1="315.60" x2="380.60" y2="315.60" stroke="#aaa" stroke-width="0.5" />
<text x="378.30" y="327.75" font-size="4.6" font-weight="normal" text-anchor="end" fill="#222" stroke="#222" stroke-width="0.15">0.5</text>
<line x1="378.90" y1="326.10" x2="380.60" y2="326.10" stroke="#aaa" stroke-width="0.5" />
<text x="370.20" y="300.60" font-size="4.65" font-weight="normal" text-anchor="middle" fill="#222" stroke="#222" stroke-width="0.12" transform="rotate(-90 370.20 300.60)">Protein expression level</text>
<text x="394.40" y="329.90" font-size="4.6" font-weight="normal" text-anchor="end" fill="#3a3a3a" stroke="#3a3a3a" stroke-width="0.08" transform="rotate(-90 394.40 329.90)">Control</text>
<text x="402.90" y="329.90" font-size="4.6" font-weight="normal" text-anchor="end" fill="#3a3a3a" stroke="#3a3a3a" stroke-width="0.08" transform="rotate(-90 402.90 329.90)">24 h</text>
<text x="411.70" y="329.90" font-size="4.6" font-weight="normal" text-anchor="end" fill="#3a3a3a" stroke="#3a3a3a" stroke-width="0.08" transform="rotate(-90 411.70 329.90)">48 h</text>
<text x="420.30" y="329.90" font-size="4.6" font-weight="normal" text-anchor="end" fill="#3a3a3a" stroke="#3a3a3a" stroke-width="0.08" transform="rotate(-90 420.30 329.90)">4 d</text>
<text x="428.80" y="329.90" font-size="4.6" font-weight="normal" text-anchor="end" fill="#3a3a3a" stroke="#3a3a3a" stroke-width="0.08" transform="rotate(-90 428.80 329.90)">5 d</text>
<text x="437.60" y="329.90" font-size="4.6" font-weight="normal" text-anchor="end" fill="#3a3a3a" stroke="#3a3a3a" stroke-width="0.08" transform="rotate(-90 437.60 329.90)">14 d</text>
<line x1="392.00" y1="287.10" x2="392.00" y2="296.20" stroke="#bbb" stroke-width="0.5" stroke-dasharray="1 1"/>
<line x1="392.00" y1="298.30" x2="392.00" y2="298.50" stroke="#bbb" stroke-width="0.5" stroke-dasharray="1 1"/>
<circle cx="392.00" cy="287.10" r="0.55" fill="#888"/>
<circle cx="392.00" cy="298.50" r="0.55" fill="#888"/>
<rect x="390.30" y="296.20" width="3.4" height="2.10" fill="#f5f5f5" stroke="#a0a0a0" stroke-width="0.6"/>
<line x1="390.30" y1="297.50" x2="393.70" y2="297.50" stroke="#444" stroke-width="1.0" />
<line x1="400.50" y1="287.00" x2="400.50" y2="287.40" stroke="#bbb" stroke-width="0.5" stroke-dasharray="1 1"/>
<line x1="400.50" y1="304.20" x2="400.50" y2="305.00" stroke="#bbb" stroke-width="0.5" stroke-dasharray="1 1"/>
<circle cx="400.50" cy="287.00" r="0.55" fill="#888"/>
<circle cx="400.50" cy="305.00" r="0.55" fill="#888"/>
<rect x="398.80" y="287.40" width="3.4" height="16.80" fill="#f5f5f5" stroke="#a0a0a0" stroke-width="0.6"/>
<line x1="398.80" y1="288.70" x2="402.20" y2="288.70" stroke="#444" stroke-width="1.0" />
<line x1="409.30" y1="286.60" x2="409.30" y2="289.80" stroke="#bbb" stroke-width="0.5" stroke-dasharray="1 1"/>
<line x1="409.30" y1="301.80" x2="409.30" y2="303.10" stroke="#bbb" stroke-width="0.5" stroke-dasharray="1 1"/>
<circle cx="409.30" cy="286.60" r="0.55" fill="#888"/>
<circle cx="409.30" cy="303.10" r="0.55" fill="#888"/>
<rect x="407.60" y="289.80" width="3.4" height="12.00" fill="#f5f5f5" stroke="#a0a0a0" stroke-width="0.6"/>
<line x1="407.60" y1="297.80" x2="411.00" y2="297.80" stroke="#444" stroke-width="1.0" />
<line x1="417.90" y1="304.00" x2="417.90" y2="304.70" stroke="#bbb" stroke-width="0.5" stroke-dasharray="1 1"/>
<line x1="417.90" y1="314.90" x2="417.90" y2="316.00" stroke="#bbb" stroke-width="0.5" stroke-dasharray="1 1"/>
<circle cx="417.90" cy="304.00" r="0.55" fill="#888"/>
<circle cx="417.90" cy="316.00" r="0.55" fill="#888"/>
<rect x="416.20" y="304.70" width="3.4" height="10.20" fill="#f5f5f5" stroke="#a0a0a0" stroke-width="0.6"/>
<line x1="416.20" y1="311.40" x2="419.60" y2="311.40" stroke="#444" stroke-width="1.0" />
<line x1="426.40" y1="304.50" x2="426.40" y2="305.80" stroke="#bbb" stroke-width="0.5" stroke-dasharray="1 1"/>
<line x1="426.40" y1="320.70" x2="426.40" y2="321.50" stroke="#bbb" stroke-width="0.5" stroke-dasharray="1 1"/>
<circle cx="426.40" cy="304.50" r="0.55" fill="#888"/>
<circle cx="426.40" cy="321.50" r="0.55" fill="#888"/>
<rect x="424.70" y="305.80" width="3.4" height="14.90" fill="#f5f5f5" stroke="#a0a0a0" stroke-width="0.6"/>
<line x1="424.70" y1="310.10" x2="428.10" y2="310.10" stroke="#444" stroke-width="1.0" />
<line x1="435.20" y1="312.20" x2="435.20" y2="313.00" stroke="#bbb" stroke-width="0.5" stroke-dasharray="1 1"/>
<line x1="435.20" y1="325.00" x2="435.20" y2="326.00" stroke="#bbb" stroke-width="0.5" stroke-dasharray="1 1"/>
<circle cx="435.20" cy="312.20" r="0.55" fill="#888"/>
<circle cx="435.20" cy="326.00" r="0.55" fill="#888"/>
<rect x="433.50" y="313.00" width="3.4" height="12.00" fill="#f5f5f5" stroke="#a0a0a0" stroke-width="0.6"/>
<line x1="433.50" y1="316.50" x2="436.90" y2="316.50" stroke="#444" stroke-width="1.0" />
<rect x="461.30" y="272.70" width="57.70" height="55.10" fill="none" stroke="#dadada" stroke-width="0.8"/>
<line x1="461.30" y1="328.10" x2="519.00" y2="328.10" stroke="#c8c8c8" stroke-width="0.9" />
<line x1="476.20" y1="272.70" x2="476.20" y2="327.80" stroke="#d8d8d8" stroke-width="0.7" />
<text x="490.15" y="270.80" font-size="4.6" font-weight="bold" text-anchor="middle" fill="#111" stroke="#111" stroke-width="0.2">EZH2 (<tspan font-style="italic">P</tspan> = 0.011)</text>
<text x="458.80" y="277.15" font-size="4.6" font-weight="normal" text-anchor="end" fill="#222" stroke="#222" stroke-width="0.15">-1.4</text>
<line x1="459.40" y1="275.50" x2="461.30" y2="275.50" stroke="#aaa" stroke-width="0.5" />
<text x="458.80" y="290.75" font-size="4.6" font-weight="normal" text-anchor="end" fill="#222" stroke="#222" stroke-width="0.15">-1.6</text>
<line x1="459.40" y1="289.10" x2="461.30" y2="289.10" stroke="#aaa" stroke-width="0.5" />
<text x="458.80" y="304.35" font-size="4.6" font-weight="normal" text-anchor="end" fill="#222" stroke="#222" stroke-width="0.15">-1.8</text>
<line x1="459.40" y1="302.70" x2="461.30" y2="302.70" stroke="#aaa" stroke-width="0.5" />
<text x="458.80" y="318.15" font-size="4.6" font-weight="normal" text-anchor="end" fill="#222" stroke="#222" stroke-width="0.15">-2.0</text>
<line x1="459.40" y1="316.50" x2="461.30" y2="316.50" stroke="#aaa" stroke-width="0.5" />
<text x="449.00" y="300.60" font-size="4.65" font-weight="normal" text-anchor="middle" fill="#222" stroke="#222" stroke-width="0.12" transform="rotate(-90 449.00 300.60)">Protein expression level</text>
<text x="474.30" y="329.90" font-size="4.6" font-weight="normal" text-anchor="end" fill="#3a3a3a" stroke="#3a3a3a" stroke-width="0.08" transform="rotate(-90 474.30 329.90)">Control</text>
<text x="482.90" y="329.90" font-size="4.6" font-weight="normal" text-anchor="end" fill="#3a3a3a" stroke="#3a3a3a" stroke-width="0.08" transform="rotate(-90 482.90 329.90)">24 h</text>
<text x="492.20" y="329.90" font-size="4.6" font-weight="normal" text-anchor="end" fill="#3a3a3a" stroke="#3a3a3a" stroke-width="0.08" transform="rotate(-90 492.20 329.90)">48 h</text>
<text x="500.50" y="329.90" font-size="4.6" font-weight="normal" text-anchor="end" fill="#3a3a3a" stroke="#3a3a3a" stroke-width="0.08" transform="rotate(-90 500.50 329.90)">4 d</text>
<text x="509.00" y="329.90" font-size="4.6" font-weight="normal" text-anchor="end" fill="#3a3a3a" stroke="#3a3a3a" stroke-width="0.08" transform="rotate(-90 509.00 329.90)">5 d</text>
<text x="517.60" y="329.90" font-size="4.6" font-weight="normal" text-anchor="end" fill="#3a3a3a" stroke="#3a3a3a" stroke-width="0.08" transform="rotate(-90 517.60 329.90)">14 d</text>
<line x1="471.90" y1="297.80" x2="471.90" y2="300.20" stroke="#bbb" stroke-width="0.5" stroke-dasharray="1 1"/>
<line x1="471.90" y1="314.90" x2="471.90" y2="315.50" stroke="#bbb" stroke-width="0.5" stroke-dasharray="1 1"/>
<circle cx="471.90" cy="297.80" r="0.55" fill="#888"/>
<circle cx="471.90" cy="315.50" r="0.55" fill="#888"/>
<rect x="470.20" y="300.20" width="3.4" height="14.70" fill="#f5f5f5" stroke="#a0a0a0" stroke-width="0.6"/>
<line x1="470.20" y1="301.80" x2="473.60" y2="301.80" stroke="#444" stroke-width="1.0" />
<line x1="480.50" y1="313.80" x2="480.50" y2="314.60" stroke="#bbb" stroke-width="0.5" stroke-dasharray="1 1"/>
<line x1="480.50" y1="321.00" x2="480.50" y2="325.00" stroke="#bbb" stroke-width="0.5" stroke-dasharray="1 1"/>
<circle cx="480.50" cy="313.80" r="0.55" fill="#888"/>
<circle cx="480.50" cy="325.00" r="0.55" fill="#888"/>
<rect x="478.80" y="314.60" width="3.4" height="6.40" fill="#f5f5f5" stroke="#a0a0a0" stroke-width="0.6"/>
<line x1="478.80" y1="317.80" x2="482.20" y2="317.80" stroke="#444" stroke-width="1.0" />
<line x1="489.80" y1="305.80" x2="489.80" y2="310.60" stroke="#bbb" stroke-width="0.5" stroke-dasharray="1 1"/>
<line x1="489.80" y1="313.00" x2="489.80" y2="323.90" stroke="#bbb" stroke-width="0.5" stroke-dasharray="1 1"/>
<circle cx="489.80" cy="305.80" r="0.55" fill="#888"/>
<circle cx="489.80" cy="323.90" r="0.55" fill="#888"/>
<rect x="488.10" y="310.60" width="3.4" height="2.40" fill="#f5f5f5" stroke="#a0a0a0" stroke-width="0.6"/>
<line x1="488.10" y1="311.40" x2="491.50" y2="311.40" stroke="#444" stroke-width="1.0" />
<line x1="498.10" y1="305.00" x2="498.10" y2="308.20" stroke="#bbb" stroke-width="0.5" stroke-dasharray="1 1"/>
<line x1="498.10" y1="315.40" x2="498.10" y2="323.90" stroke="#bbb" stroke-width="0.5" stroke-dasharray="1 1"/>
<circle cx="498.10" cy="305.00" r="0.55" fill="#888"/>
<circle cx="498.10" cy="323.90" r="0.55" fill="#888"/>
<rect x="496.40" y="308.20" width="3.4" height="7.20" fill="#f5f5f5" stroke="#a0a0a0" stroke-width="0.6"/>
<line x1="496.40" y1="309.80" x2="499.80" y2="309.80" stroke="#444" stroke-width="1.0" />
<line x1="506.60" y1="293.80" x2="506.60" y2="304.20" stroke="#bbb" stroke-width="0.5" stroke-dasharray="1 1"/>
<line x1="506.60" y1="317.80" x2="506.60" y2="318.50" stroke="#bbb" stroke-width="0.5" stroke-dasharray="1 1"/>
<circle cx="506.60" cy="293.80" r="0.55" fill="#888"/>
<circle cx="506.60" cy="318.50" r="0.55" fill="#888"/>
<rect x="504.90" y="304.20" width="3.4" height="13.60" fill="#f5f5f5" stroke="#a0a0a0" stroke-width="0.6"/>
<line x1="504.90" y1="306.30" x2="508.30" y2="306.30" stroke="#444" stroke-width="1.0" />
<line x1="515.20" y1="284.50" x2="515.20" y2="289.00" stroke="#bbb" stroke-width="0.5" stroke-dasharray="1 1"/>
<line x1="515.20" y1="305.80" x2="515.20" y2="317.80" stroke="#bbb" stroke-width="0.5" stroke-dasharray="1 1"/>
<circle cx="515.20" cy="284.50" r="0.55" fill="#888"/>
<circle cx="515.20" cy="317.80" r="0.55" fill="#888"/>
<rect x="513.50" y="289.00" width="3.4" height="16.80" fill="#f5f5f5" stroke="#a0a0a0" stroke-width="0.6"/>
<line x1="513.50" y1="300.50" x2="516.90" y2="300.50" stroke="#444" stroke-width="1.0" />
</svg>
</body></html>
